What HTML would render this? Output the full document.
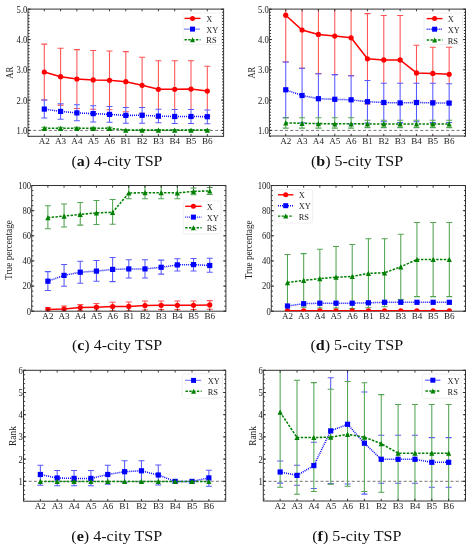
<!DOCTYPE html>
<html><head><meta charset="utf-8"><style>
html,body{margin:0;padding:0;background:#fff;width:469px;height:550px;overflow:hidden;}
body{position:relative;font-family:"Liberation Serif", serif;}
</style></head><body>
<svg width="469" height="550" viewBox="0 0 469 550" style="position:absolute;left:0;top:0;filter:blur(0.3px)">
<defs>
<clipPath id="ca"><rect x="28" y="9.1" width="195.6" height="127.2"/></clipPath>
<clipPath id="cb"><rect x="269.4" y="9.1" width="196.1" height="126.9"/></clipPath>
<clipPath id="cc"><rect x="31.7" y="185.5" width="194.2" height="125.7"/></clipPath>
<clipPath id="cd"><rect x="271.3" y="185.5" width="194.2" height="125.7"/></clipPath>
<clipPath id="ce"><rect x="23.5" y="370.3" width="202.2" height="130.9"/></clipPath>
<clipPath id="cf"><rect x="263.3" y="370.3" width="202.2" height="130.7"/></clipPath>
</defs>
<rect width="469" height="550" fill="#fff"/>
<line x1="28" y1="130.4" x2="223.6" y2="130.4" stroke="#666" stroke-width="0.9" stroke-dasharray="3,2.2"/>
<g stroke="#ff5252" stroke-width="1.05" clip-path="url(#ca)"><line x1="44.3" y1="44.1" x2="44.3" y2="99.9"/><line x1="41.3" y1="44.1" x2="47.3" y2="44.1"/><line x1="41.3" y1="99.9" x2="47.3" y2="99.9"/><line x1="60.6" y1="48.3" x2="60.6" y2="103.8"/><line x1="57.6" y1="48.3" x2="63.6" y2="48.3"/><line x1="57.6" y1="105.1" x2="63.6" y2="105.1"/><line x1="76.9" y1="49.6" x2="76.9" y2="104.8"/><line x1="73.9" y1="49.6" x2="79.9" y2="49.6"/><line x1="73.9" y1="108.4" x2="79.9" y2="108.4"/><line x1="93.2" y1="50.5" x2="93.2" y2="105.7"/><line x1="90.2" y1="50.5" x2="96.2" y2="50.5"/><line x1="90.2" y1="109.3" x2="96.2" y2="109.3"/><line x1="109.5" y1="50.9" x2="109.5" y2="106.5"/><line x1="106.5" y1="50.9" x2="112.5" y2="50.9"/><line x1="106.5" y1="109.7" x2="112.5" y2="109.7"/><line x1="125.8" y1="51.6" x2="125.8" y2="107.4"/><line x1="122.8" y1="51.6" x2="128.8" y2="51.6"/><line x1="122.8" y1="111.8" x2="128.8" y2="111.8"/><line x1="142.1" y1="57.3" x2="142.1" y2="107.5"/><line x1="139.1" y1="57.3" x2="145.1" y2="57.3"/><line x1="139.1" y1="113.3" x2="145.1" y2="113.3"/><line x1="158.4" y1="60.7" x2="158.4" y2="109.2"/><line x1="155.4" y1="60.7" x2="161.4" y2="60.7"/><line x1="155.4" y1="117.9" x2="161.4" y2="117.9"/><line x1="174.7" y1="60.7" x2="174.7" y2="109.5"/><line x1="171.7" y1="60.7" x2="177.7" y2="60.7"/><line x1="171.7" y1="117.9" x2="177.7" y2="117.9"/><line x1="191" y1="60.7" x2="191" y2="109.5"/><line x1="188" y1="60.7" x2="194" y2="60.7"/><line x1="188" y1="117.5" x2="194" y2="117.5"/><line x1="207.3" y1="66.3" x2="207.3" y2="110"/><line x1="204.3" y1="66.3" x2="210.3" y2="66.3"/><line x1="204.3" y1="115.9" x2="210.3" y2="115.9"/></g>
<g stroke="#5858ff" stroke-width="1.05" clip-path="url(#ca)"><line x1="44.3" y1="99.9" x2="44.3" y2="118"/><line x1="41.3" y1="99.9" x2="47.3" y2="99.9"/><line x1="41.3" y1="118" x2="47.3" y2="118"/><line x1="60.6" y1="103.8" x2="60.6" y2="119.3"/><line x1="57.6" y1="103.8" x2="63.6" y2="103.8"/><line x1="57.6" y1="119.3" x2="63.6" y2="119.3"/><line x1="76.9" y1="104.8" x2="76.9" y2="120.8"/><line x1="73.9" y1="104.8" x2="79.9" y2="104.8"/><line x1="73.9" y1="120.8" x2="79.9" y2="120.8"/><line x1="93.2" y1="105.7" x2="93.2" y2="121.9"/><line x1="90.2" y1="105.7" x2="96.2" y2="105.7"/><line x1="90.2" y1="121.9" x2="96.2" y2="121.9"/><line x1="109.5" y1="106.5" x2="109.5" y2="122.3"/><line x1="106.5" y1="106.5" x2="112.5" y2="106.5"/><line x1="106.5" y1="122.3" x2="112.5" y2="122.3"/><line x1="125.8" y1="107.4" x2="125.8" y2="123.2"/><line x1="122.8" y1="107.4" x2="128.8" y2="107.4"/><line x1="122.8" y1="123.2" x2="128.8" y2="123.2"/><line x1="142.1" y1="107.5" x2="142.1" y2="123.3"/><line x1="139.1" y1="107.5" x2="145.1" y2="107.5"/><line x1="139.1" y1="123.3" x2="145.1" y2="123.3"/><line x1="158.4" y1="109.2" x2="158.4" y2="122.7"/><line x1="155.4" y1="109.2" x2="161.4" y2="109.2"/><line x1="155.4" y1="122.7" x2="161.4" y2="122.7"/><line x1="174.7" y1="109.5" x2="174.7" y2="123.4"/><line x1="171.7" y1="109.5" x2="177.7" y2="109.5"/><line x1="171.7" y1="123.4" x2="177.7" y2="123.4"/><line x1="191" y1="109.5" x2="191" y2="123.4"/><line x1="188" y1="109.5" x2="194" y2="109.5"/><line x1="188" y1="123.4" x2="194" y2="123.4"/><line x1="207.3" y1="110" x2="207.3" y2="123.8"/><line x1="204.3" y1="110" x2="210.3" y2="110"/><line x1="204.3" y1="123.8" x2="210.3" y2="123.8"/></g>
<g stroke="#52a452" stroke-width="1.05" clip-path="url(#ca)"><line x1="44.3" y1="127.2" x2="44.3" y2="129.4"/><line x1="41.3" y1="127.2" x2="47.3" y2="127.2"/><line x1="41.3" y1="129.4" x2="47.3" y2="129.4"/><line x1="60.6" y1="127.2" x2="60.6" y2="129.4"/><line x1="57.6" y1="127.2" x2="63.6" y2="127.2"/><line x1="57.6" y1="129.4" x2="63.6" y2="129.4"/><line x1="76.9" y1="127.2" x2="76.9" y2="129.4"/><line x1="73.9" y1="127.2" x2="79.9" y2="127.2"/><line x1="73.9" y1="129.4" x2="79.9" y2="129.4"/><line x1="93.2" y1="127.2" x2="93.2" y2="129.4"/><line x1="90.2" y1="127.2" x2="96.2" y2="127.2"/><line x1="90.2" y1="129.4" x2="96.2" y2="129.4"/><line x1="109.5" y1="127.2" x2="109.5" y2="129.4"/><line x1="106.5" y1="127.2" x2="112.5" y2="127.2"/><line x1="106.5" y1="129.4" x2="112.5" y2="129.4"/><line x1="125.8" y1="129.4" x2="125.8" y2="130.8"/><line x1="122.8" y1="129.4" x2="128.8" y2="129.4"/><line x1="122.8" y1="130.8" x2="128.8" y2="130.8"/><line x1="142.1" y1="129.4" x2="142.1" y2="130.8"/><line x1="139.1" y1="129.4" x2="145.1" y2="129.4"/><line x1="139.1" y1="130.8" x2="145.1" y2="130.8"/><line x1="158.4" y1="129.4" x2="158.4" y2="130.8"/><line x1="155.4" y1="129.4" x2="161.4" y2="129.4"/><line x1="155.4" y1="130.8" x2="161.4" y2="130.8"/><line x1="174.7" y1="129.4" x2="174.7" y2="130.8"/><line x1="171.7" y1="129.4" x2="177.7" y2="129.4"/><line x1="171.7" y1="130.8" x2="177.7" y2="130.8"/><line x1="191" y1="129.4" x2="191" y2="130.8"/><line x1="188" y1="129.4" x2="194" y2="129.4"/><line x1="188" y1="130.8" x2="194" y2="130.8"/><line x1="207.3" y1="129.4" x2="207.3" y2="130.8"/><line x1="204.3" y1="129.4" x2="210.3" y2="129.4"/><line x1="204.3" y1="130.8" x2="210.3" y2="130.8"/></g>
<polyline points="44.3,72 60.6,76.7 76.9,79 93.2,79.9 109.5,80.3 125.8,81.7 142.1,85.3 158.4,89.3 174.7,89.3 191,89.1 207.3,91.1" fill="none" stroke="#ff0000" stroke-width="1.55" stroke-dasharray="none" clip-path="url(#ca)"/>
<g clip-path="url(#ca)"><circle cx="44.3" cy="72" r="2.6" fill="#ff0000"/><circle cx="60.6" cy="76.7" r="2.6" fill="#ff0000"/><circle cx="76.9" cy="79" r="2.6" fill="#ff0000"/><circle cx="93.2" cy="79.9" r="2.6" fill="#ff0000"/><circle cx="109.5" cy="80.3" r="2.6" fill="#ff0000"/><circle cx="125.8" cy="81.7" r="2.6" fill="#ff0000"/><circle cx="142.1" cy="85.3" r="2.6" fill="#ff0000"/><circle cx="158.4" cy="89.3" r="2.6" fill="#ff0000"/><circle cx="174.7" cy="89.3" r="2.6" fill="#ff0000"/><circle cx="191" cy="89.1" r="2.6" fill="#ff0000"/><circle cx="207.3" cy="91.1" r="2.6" fill="#ff0000"/></g>
<polyline points="44.3,109.1 60.6,111.4 76.9,112.9 93.2,113.6 109.5,114.4 125.8,115.4 142.1,115.3 158.4,116.1 174.7,116.5 191,116.5 207.3,116.7" fill="none" stroke="#0000ff" stroke-width="1.55" stroke-dasharray="0.95,1.05" clip-path="url(#ca)"/>
<g clip-path="url(#ca)"><rect x="41.7" y="106.5" width="5.2" height="5.2" fill="#0000ff"/><rect x="58" y="108.8" width="5.2" height="5.2" fill="#0000ff"/><rect x="74.3" y="110.3" width="5.2" height="5.2" fill="#0000ff"/><rect x="90.6" y="111" width="5.2" height="5.2" fill="#0000ff"/><rect x="106.9" y="111.8" width="5.2" height="5.2" fill="#0000ff"/><rect x="123.2" y="112.8" width="5.2" height="5.2" fill="#0000ff"/><rect x="139.5" y="112.7" width="5.2" height="5.2" fill="#0000ff"/><rect x="155.8" y="113.5" width="5.2" height="5.2" fill="#0000ff"/><rect x="172.1" y="113.9" width="5.2" height="5.2" fill="#0000ff"/><rect x="188.4" y="113.9" width="5.2" height="5.2" fill="#0000ff"/><rect x="204.7" y="114.1" width="5.2" height="5.2" fill="#0000ff"/></g>
<polyline points="44.3,128.3 60.6,128.3 76.9,128.3 93.2,128.3 109.5,128.3 125.8,130.1 142.1,130.1 158.4,130.1 174.7,130.1 191,130.1 207.3,130.1" fill="none" stroke="#008000" stroke-width="1.55" stroke-dasharray="2.4,1.4" clip-path="url(#ca)"/>
<g clip-path="url(#ca)"><polygon points="44.3,125.7 41.7,130.9 46.9,130.9" fill="#008000"/><polygon points="60.6,125.7 58,130.9 63.2,130.9" fill="#008000"/><polygon points="76.9,125.7 74.3,130.9 79.5,130.9" fill="#008000"/><polygon points="93.2,125.7 90.6,130.9 95.8,130.9" fill="#008000"/><polygon points="109.5,125.7 106.9,130.9 112.1,130.9" fill="#008000"/><polygon points="125.8,127.5 123.2,132.7 128.4,132.7" fill="#008000"/><polygon points="142.1,127.5 139.5,132.7 144.7,132.7" fill="#008000"/><polygon points="158.4,127.5 155.8,132.7 161,132.7" fill="#008000"/><polygon points="174.7,127.5 172.1,132.7 177.3,132.7" fill="#008000"/><polygon points="191,127.5 188.4,132.7 193.6,132.7" fill="#008000"/><polygon points="207.3,127.5 204.7,132.7 209.9,132.7" fill="#008000"/></g>
<g stroke="#222" stroke-width="0.9"><line x1="28" y1="136.46" x2="29.6" y2="136.46"/><line x1="222" y1="136.46" x2="223.6" y2="136.46"/><line x1="28" y1="133.43" x2="29.6" y2="133.43"/><line x1="222" y1="133.43" x2="223.6" y2="133.43"/><line x1="28" y1="130.4" x2="29.6" y2="130.4"/><line x1="222" y1="130.4" x2="223.6" y2="130.4"/><line x1="28" y1="127.37" x2="29.6" y2="127.37"/><line x1="222" y1="127.37" x2="223.6" y2="127.37"/><line x1="28" y1="124.34" x2="29.6" y2="124.34"/><line x1="222" y1="124.34" x2="223.6" y2="124.34"/><line x1="28" y1="121.32" x2="29.6" y2="121.32"/><line x1="222" y1="121.32" x2="223.6" y2="121.32"/><line x1="28" y1="118.29" x2="29.6" y2="118.29"/><line x1="222" y1="118.29" x2="223.6" y2="118.29"/><line x1="28" y1="115.26" x2="29.6" y2="115.26"/><line x1="222" y1="115.26" x2="223.6" y2="115.26"/><line x1="28" y1="112.23" x2="29.6" y2="112.23"/><line x1="222" y1="112.23" x2="223.6" y2="112.23"/><line x1="28" y1="109.2" x2="29.6" y2="109.2"/><line x1="222" y1="109.2" x2="223.6" y2="109.2"/><line x1="28" y1="106.18" x2="29.6" y2="106.18"/><line x1="222" y1="106.18" x2="223.6" y2="106.18"/><line x1="28" y1="103.15" x2="29.6" y2="103.15"/><line x1="222" y1="103.15" x2="223.6" y2="103.15"/><line x1="28" y1="100.12" x2="29.6" y2="100.12"/><line x1="222" y1="100.12" x2="223.6" y2="100.12"/><line x1="28" y1="97.09" x2="29.6" y2="97.09"/><line x1="222" y1="97.09" x2="223.6" y2="97.09"/><line x1="28" y1="94.06" x2="29.6" y2="94.06"/><line x1="222" y1="94.06" x2="223.6" y2="94.06"/><line x1="28" y1="91.04" x2="29.6" y2="91.04"/><line x1="222" y1="91.04" x2="223.6" y2="91.04"/><line x1="28" y1="88.01" x2="29.6" y2="88.01"/><line x1="222" y1="88.01" x2="223.6" y2="88.01"/><line x1="28" y1="84.98" x2="29.6" y2="84.98"/><line x1="222" y1="84.98" x2="223.6" y2="84.98"/><line x1="28" y1="81.95" x2="29.6" y2="81.95"/><line x1="222" y1="81.95" x2="223.6" y2="81.95"/><line x1="28" y1="78.92" x2="29.6" y2="78.92"/><line x1="222" y1="78.92" x2="223.6" y2="78.92"/><line x1="28" y1="75.9" x2="29.6" y2="75.9"/><line x1="222" y1="75.9" x2="223.6" y2="75.9"/><line x1="28" y1="72.87" x2="29.6" y2="72.87"/><line x1="222" y1="72.87" x2="223.6" y2="72.87"/><line x1="28" y1="69.84" x2="29.6" y2="69.84"/><line x1="222" y1="69.84" x2="223.6" y2="69.84"/><line x1="28" y1="66.81" x2="29.6" y2="66.81"/><line x1="222" y1="66.81" x2="223.6" y2="66.81"/><line x1="28" y1="63.78" x2="29.6" y2="63.78"/><line x1="222" y1="63.78" x2="223.6" y2="63.78"/><line x1="28" y1="60.76" x2="29.6" y2="60.76"/><line x1="222" y1="60.76" x2="223.6" y2="60.76"/><line x1="28" y1="57.73" x2="29.6" y2="57.73"/><line x1="222" y1="57.73" x2="223.6" y2="57.73"/><line x1="28" y1="54.7" x2="29.6" y2="54.7"/><line x1="222" y1="54.7" x2="223.6" y2="54.7"/><line x1="28" y1="51.67" x2="29.6" y2="51.67"/><line x1="222" y1="51.67" x2="223.6" y2="51.67"/><line x1="28" y1="48.64" x2="29.6" y2="48.64"/><line x1="222" y1="48.64" x2="223.6" y2="48.64"/><line x1="28" y1="45.62" x2="29.6" y2="45.62"/><line x1="222" y1="45.62" x2="223.6" y2="45.62"/><line x1="28" y1="42.59" x2="29.6" y2="42.59"/><line x1="222" y1="42.59" x2="223.6" y2="42.59"/><line x1="28" y1="39.56" x2="29.6" y2="39.56"/><line x1="222" y1="39.56" x2="223.6" y2="39.56"/><line x1="28" y1="36.53" x2="29.6" y2="36.53"/><line x1="222" y1="36.53" x2="223.6" y2="36.53"/><line x1="28" y1="33.5" x2="29.6" y2="33.5"/><line x1="222" y1="33.5" x2="223.6" y2="33.5"/><line x1="28" y1="30.48" x2="29.6" y2="30.48"/><line x1="222" y1="30.48" x2="223.6" y2="30.48"/><line x1="28" y1="27.45" x2="29.6" y2="27.45"/><line x1="222" y1="27.45" x2="223.6" y2="27.45"/><line x1="28" y1="24.42" x2="29.6" y2="24.42"/><line x1="222" y1="24.42" x2="223.6" y2="24.42"/><line x1="28" y1="21.39" x2="29.6" y2="21.39"/><line x1="222" y1="21.39" x2="223.6" y2="21.39"/><line x1="28" y1="18.36" x2="29.6" y2="18.36"/><line x1="222" y1="18.36" x2="223.6" y2="18.36"/><line x1="28" y1="15.34" x2="29.6" y2="15.34"/><line x1="222" y1="15.34" x2="223.6" y2="15.34"/><line x1="28" y1="12.31" x2="29.6" y2="12.31"/><line x1="222" y1="12.31" x2="223.6" y2="12.31"/><line x1="28" y1="9.28" x2="29.6" y2="9.28"/><line x1="222" y1="9.28" x2="223.6" y2="9.28"/><line x1="28" y1="130.4" x2="30.6" y2="130.4"/><line x1="221" y1="130.4" x2="223.6" y2="130.4"/><line x1="28" y1="100.12" x2="30.6" y2="100.12"/><line x1="221" y1="100.12" x2="223.6" y2="100.12"/><line x1="28" y1="69.84" x2="30.6" y2="69.84"/><line x1="221" y1="69.84" x2="223.6" y2="69.84"/><line x1="28" y1="39.56" x2="30.6" y2="39.56"/><line x1="221" y1="39.56" x2="223.6" y2="39.56"/><line x1="28" y1="9.28" x2="30.6" y2="9.28"/><line x1="221" y1="9.28" x2="223.6" y2="9.28"/><line x1="44.3" y1="9.1" x2="44.3" y2="11.3"/><line x1="44.3" y1="134.1" x2="44.3" y2="136.3"/><line x1="60.6" y1="9.1" x2="60.6" y2="11.3"/><line x1="60.6" y1="134.1" x2="60.6" y2="136.3"/><line x1="76.9" y1="9.1" x2="76.9" y2="11.3"/><line x1="76.9" y1="134.1" x2="76.9" y2="136.3"/><line x1="93.2" y1="9.1" x2="93.2" y2="11.3"/><line x1="93.2" y1="134.1" x2="93.2" y2="136.3"/><line x1="109.5" y1="9.1" x2="109.5" y2="11.3"/><line x1="109.5" y1="134.1" x2="109.5" y2="136.3"/><line x1="125.8" y1="9.1" x2="125.8" y2="11.3"/><line x1="125.8" y1="134.1" x2="125.8" y2="136.3"/><line x1="142.1" y1="9.1" x2="142.1" y2="11.3"/><line x1="142.1" y1="134.1" x2="142.1" y2="136.3"/><line x1="158.4" y1="9.1" x2="158.4" y2="11.3"/><line x1="158.4" y1="134.1" x2="158.4" y2="136.3"/><line x1="174.7" y1="9.1" x2="174.7" y2="11.3"/><line x1="174.7" y1="134.1" x2="174.7" y2="136.3"/><line x1="191" y1="9.1" x2="191" y2="11.3"/><line x1="191" y1="134.1" x2="191" y2="136.3"/><line x1="207.3" y1="9.1" x2="207.3" y2="11.3"/><line x1="207.3" y1="134.1" x2="207.3" y2="136.3"/></g>
<rect x="28" y="9.1" width="195.6" height="127.2" fill="none" stroke="#333" stroke-width="1"/>
<g font-family='"Liberation Serif", serif' fill="#222"><text x="16.6" y="133.8" font-size="9.6" textLength="10.8" lengthAdjust="spacingAndGlyphs">1.0</text><text x="16.6" y="103.52" font-size="9.6" textLength="10.8" lengthAdjust="spacingAndGlyphs">2.0</text><text x="16.6" y="73.24" font-size="9.6" textLength="10.8" lengthAdjust="spacingAndGlyphs">3.0</text><text x="16.6" y="42.96" font-size="9.6" textLength="10.8" lengthAdjust="spacingAndGlyphs">4.0</text><text x="16.6" y="12.68" font-size="9.6" textLength="10.8" lengthAdjust="spacingAndGlyphs">5.0</text><text x="44.3" y="144.2" text-anchor="middle" font-size="9.1">A2</text><text x="60.6" y="144.2" text-anchor="middle" font-size="9.1">A3</text><text x="76.9" y="144.2" text-anchor="middle" font-size="9.1">A4</text><text x="93.2" y="144.2" text-anchor="middle" font-size="9.1">A5</text><text x="109.5" y="144.2" text-anchor="middle" font-size="9.1">A6</text><text x="125.8" y="144.2" text-anchor="middle" font-size="9.1">B1</text><text x="142.1" y="144.2" text-anchor="middle" font-size="9.1">B2</text><text x="158.4" y="144.2" text-anchor="middle" font-size="9.1">B3</text><text x="174.7" y="144.2" text-anchor="middle" font-size="9.1">B4</text><text x="191" y="144.2" text-anchor="middle" font-size="9.1">B5</text><text x="207.3" y="144.2" text-anchor="middle" font-size="9.1">B6</text><text transform="translate(12.8,72.75) rotate(-90)" x="-6.05" y="0" font-size="9.4" textLength="12.1" lengthAdjust="spacingAndGlyphs">AR</text></g>
<rect x="183" y="13" width="38.5" height="31.6" rx="1.5" fill="rgba(255,255,255,0.85)" stroke="#ececec" stroke-width="0.8"/>
<line x1="184.5" y1="18.4" x2="200.5" y2="18.4" stroke="#ff0000" stroke-width="1.4" stroke-dasharray="none"/>
<circle cx="192.5" cy="18.4" r="2.5" fill="#ff0000"/>
<text x="206.3" y="22" font-family='"Liberation Serif", serif' font-size="8.4" fill="#222">X</text>
<line x1="184.5" y1="29.1" x2="200.5" y2="29.1" stroke="#0000ff" stroke-width="1.4" stroke-dasharray="0.95,1.05"/>
<rect x="190" y="26.6" width="5" height="5" fill="#0000ff"/>
<text x="206.3" y="32.7" font-family='"Liberation Serif", serif' font-size="8.4" fill="#222">XY</text>
<line x1="184.5" y1="39.8" x2="200.5" y2="39.8" stroke="#008000" stroke-width="1.4" stroke-dasharray="2.4,1.4"/>
<polygon points="192.5,37.3 190,42.3 195,42.3" fill="#008000"/>
<text x="206.3" y="43.4" font-family='"Liberation Serif", serif' font-size="8.4" fill="#222">RS</text>
<text x="71.4" y="165.7" font-family='"Liberation Serif", serif' font-size="14.8" fill="#111" textLength="91" lengthAdjust="spacingAndGlyphs">(<tspan font-weight="bold">a</tspan>) 4-city TSP</text>
<line x1="269.4" y1="130.4" x2="465.5" y2="130.4" stroke="#666" stroke-width="0.9" stroke-dasharray="3,2.2"/>
<g stroke="#ff5252" stroke-width="1.05" clip-path="url(#cb)"><line x1="285.74" y1="-20" x2="285.74" y2="62"/><line x1="282.74" y1="-20" x2="288.74" y2="-20"/><line x1="282.74" y1="62" x2="288.74" y2="62"/><line x1="302.08" y1="-20" x2="302.08" y2="68.2"/><line x1="299.08" y1="-20" x2="305.08" y2="-20"/><line x1="299.08" y1="68.2" x2="305.08" y2="68.2"/><line x1="318.42" y1="-20" x2="318.42" y2="73.8"/><line x1="315.42" y1="-20" x2="321.42" y2="-20"/><line x1="315.42" y1="73.8" x2="321.42" y2="73.8"/><line x1="334.77" y1="-20" x2="334.77" y2="74.6"/><line x1="331.77" y1="-20" x2="337.77" y2="-20"/><line x1="331.77" y1="74.6" x2="337.77" y2="74.6"/><line x1="351.11" y1="-20" x2="351.11" y2="75.7"/><line x1="348.11" y1="-20" x2="354.11" y2="-20"/><line x1="348.11" y1="75.7" x2="354.11" y2="75.7"/><line x1="367.45" y1="13.6" x2="367.45" y2="80.5"/><line x1="364.45" y1="13.6" x2="370.45" y2="13.6"/><line x1="364.45" y1="104" x2="370.45" y2="104"/><line x1="383.79" y1="15.4" x2="383.79" y2="83.2"/><line x1="380.79" y1="15.4" x2="386.79" y2="15.4"/><line x1="380.79" y1="104.4" x2="386.79" y2="104.4"/><line x1="400.13" y1="15.4" x2="400.13" y2="83.2"/><line x1="397.13" y1="15.4" x2="403.13" y2="15.4"/><line x1="397.13" y1="104.4" x2="403.13" y2="104.4"/><line x1="416.48" y1="45.2" x2="416.48" y2="83.2"/><line x1="413.48" y1="45.2" x2="419.48" y2="45.2"/><line x1="413.48" y1="100.8" x2="419.48" y2="100.8"/><line x1="432.82" y1="47.3" x2="432.82" y2="83.2"/><line x1="429.82" y1="47.3" x2="435.82" y2="47.3"/><line x1="429.82" y1="100.8" x2="435.82" y2="100.8"/><line x1="449.16" y1="47.3" x2="449.16" y2="83.7"/><line x1="446.16" y1="47.3" x2="452.16" y2="47.3"/><line x1="446.16" y1="101.4" x2="452.16" y2="101.4"/></g>
<g stroke="#5858ff" stroke-width="1.05" clip-path="url(#cb)"><line x1="285.74" y1="62" x2="285.74" y2="117.6"/><line x1="282.74" y1="62" x2="288.74" y2="62"/><line x1="282.74" y1="117.6" x2="288.74" y2="117.6"/><line x1="302.08" y1="68.2" x2="302.08" y2="117.7"/><line x1="299.08" y1="68.2" x2="305.08" y2="68.2"/><line x1="299.08" y1="122.8" x2="305.08" y2="122.8"/><line x1="318.42" y1="73.8" x2="318.42" y2="117.7"/><line x1="315.42" y1="73.8" x2="321.42" y2="73.8"/><line x1="315.42" y1="123.6" x2="321.42" y2="123.6"/><line x1="334.77" y1="74.6" x2="334.77" y2="117.7"/><line x1="331.77" y1="74.6" x2="337.77" y2="74.6"/><line x1="331.77" y1="124" x2="337.77" y2="124"/><line x1="351.11" y1="75.7" x2="351.11" y2="117.7"/><line x1="348.11" y1="75.7" x2="354.11" y2="75.7"/><line x1="348.11" y1="123.9" x2="354.11" y2="123.9"/><line x1="367.45" y1="80.5" x2="367.45" y2="120.3"/><line x1="364.45" y1="80.5" x2="370.45" y2="80.5"/><line x1="364.45" y1="122.9" x2="370.45" y2="122.9"/><line x1="383.79" y1="83.2" x2="383.79" y2="120.3"/><line x1="380.79" y1="83.2" x2="386.79" y2="83.2"/><line x1="380.79" y1="121.8" x2="386.79" y2="121.8"/><line x1="400.13" y1="83.2" x2="400.13" y2="120.3"/><line x1="397.13" y1="83.2" x2="403.13" y2="83.2"/><line x1="397.13" y1="122.6" x2="403.13" y2="122.6"/><line x1="416.48" y1="83.2" x2="416.48" y2="120.3"/><line x1="413.48" y1="83.2" x2="419.48" y2="83.2"/><line x1="413.48" y1="121.8" x2="419.48" y2="121.8"/><line x1="432.82" y1="83.2" x2="432.82" y2="120.3"/><line x1="429.82" y1="83.2" x2="435.82" y2="83.2"/><line x1="429.82" y1="122.6" x2="435.82" y2="122.6"/><line x1="449.16" y1="83.7" x2="449.16" y2="120.3"/><line x1="446.16" y1="83.7" x2="452.16" y2="83.7"/><line x1="446.16" y1="122.5" x2="452.16" y2="122.5"/></g>
<g stroke="#52a452" stroke-width="1.05" clip-path="url(#cb)"><line x1="285.74" y1="117.7" x2="285.74" y2="128.1"/><line x1="282.74" y1="117.7" x2="288.74" y2="117.7"/><line x1="282.74" y1="128.1" x2="288.74" y2="128.1"/><line x1="302.08" y1="117.7" x2="302.08" y2="128.1"/><line x1="299.08" y1="117.7" x2="305.08" y2="117.7"/><line x1="299.08" y1="128.1" x2="305.08" y2="128.1"/><line x1="318.42" y1="117.7" x2="318.42" y2="128.1"/><line x1="315.42" y1="117.7" x2="321.42" y2="117.7"/><line x1="315.42" y1="128.1" x2="321.42" y2="128.1"/><line x1="334.77" y1="117.7" x2="334.77" y2="128.1"/><line x1="331.77" y1="117.7" x2="337.77" y2="117.7"/><line x1="331.77" y1="128.1" x2="337.77" y2="128.1"/><line x1="351.11" y1="117.7" x2="351.11" y2="128.1"/><line x1="348.11" y1="117.7" x2="354.11" y2="117.7"/><line x1="348.11" y1="128.1" x2="354.11" y2="128.1"/><line x1="367.45" y1="120.3" x2="367.45" y2="127.6"/><line x1="364.45" y1="120.3" x2="370.45" y2="120.3"/><line x1="364.45" y1="127.6" x2="370.45" y2="127.6"/><line x1="383.79" y1="120.3" x2="383.79" y2="127.6"/><line x1="380.79" y1="120.3" x2="386.79" y2="120.3"/><line x1="380.79" y1="127.6" x2="386.79" y2="127.6"/><line x1="400.13" y1="120.3" x2="400.13" y2="127.6"/><line x1="397.13" y1="120.3" x2="403.13" y2="120.3"/><line x1="397.13" y1="127.6" x2="403.13" y2="127.6"/><line x1="416.48" y1="120.3" x2="416.48" y2="127.6"/><line x1="413.48" y1="120.3" x2="419.48" y2="120.3"/><line x1="413.48" y1="127.6" x2="419.48" y2="127.6"/><line x1="432.82" y1="120.3" x2="432.82" y2="127.6"/><line x1="429.82" y1="120.3" x2="435.82" y2="120.3"/><line x1="429.82" y1="127.6" x2="435.82" y2="127.6"/><line x1="449.16" y1="120.3" x2="449.16" y2="127.6"/><line x1="446.16" y1="120.3" x2="452.16" y2="120.3"/><line x1="446.16" y1="127.6" x2="452.16" y2="127.6"/></g>
<polyline points="285.74,15.2 302.08,30 318.42,34.4 334.77,36.1 351.11,37.8 367.45,58.8 383.79,59.9 400.13,59.9 416.48,72.9 432.82,73.4 449.16,74.3" fill="none" stroke="#ff0000" stroke-width="1.55" stroke-dasharray="none" clip-path="url(#cb)"/>
<g clip-path="url(#cb)"><circle cx="285.74" cy="15.2" r="2.6" fill="#ff0000"/><circle cx="302.08" cy="30" r="2.6" fill="#ff0000"/><circle cx="318.42" cy="34.4" r="2.6" fill="#ff0000"/><circle cx="334.77" cy="36.1" r="2.6" fill="#ff0000"/><circle cx="351.11" cy="37.8" r="2.6" fill="#ff0000"/><circle cx="367.45" cy="58.8" r="2.6" fill="#ff0000"/><circle cx="383.79" cy="59.9" r="2.6" fill="#ff0000"/><circle cx="400.13" cy="59.9" r="2.6" fill="#ff0000"/><circle cx="416.48" cy="72.9" r="2.6" fill="#ff0000"/><circle cx="432.82" cy="73.4" r="2.6" fill="#ff0000"/><circle cx="449.16" cy="74.3" r="2.6" fill="#ff0000"/></g>
<polyline points="285.74,89.8 302.08,95.5 318.42,98.7 334.77,99.3 351.11,99.8 367.45,101.7 383.79,102.5 400.13,102.9 416.48,102.5 432.82,102.9 449.16,103.1" fill="none" stroke="#0000ff" stroke-width="1.55" stroke-dasharray="0.95,1.05" clip-path="url(#cb)"/>
<g clip-path="url(#cb)"><rect x="283.14" y="87.2" width="5.2" height="5.2" fill="#0000ff"/><rect x="299.48" y="92.9" width="5.2" height="5.2" fill="#0000ff"/><rect x="315.82" y="96.1" width="5.2" height="5.2" fill="#0000ff"/><rect x="332.17" y="96.7" width="5.2" height="5.2" fill="#0000ff"/><rect x="348.51" y="97.2" width="5.2" height="5.2" fill="#0000ff"/><rect x="364.85" y="99.1" width="5.2" height="5.2" fill="#0000ff"/><rect x="381.19" y="99.9" width="5.2" height="5.2" fill="#0000ff"/><rect x="397.53" y="100.3" width="5.2" height="5.2" fill="#0000ff"/><rect x="413.88" y="99.9" width="5.2" height="5.2" fill="#0000ff"/><rect x="430.22" y="100.3" width="5.2" height="5.2" fill="#0000ff"/><rect x="446.56" y="100.5" width="5.2" height="5.2" fill="#0000ff"/></g>
<polyline points="285.74,122.9 302.08,123.3 318.42,123.6 334.77,123.8 351.11,123.8 367.45,123.9 383.79,123.9 400.13,123.9 416.48,123.9 432.82,123.9 449.16,123.9" fill="none" stroke="#008000" stroke-width="1.55" stroke-dasharray="2.4,1.4" clip-path="url(#cb)"/>
<g clip-path="url(#cb)"><polygon points="285.74,120.3 283.14,125.5 288.34,125.5" fill="#008000"/><polygon points="302.08,120.7 299.48,125.9 304.68,125.9" fill="#008000"/><polygon points="318.42,121 315.82,126.2 321.02,126.2" fill="#008000"/><polygon points="334.77,121.2 332.17,126.4 337.37,126.4" fill="#008000"/><polygon points="351.11,121.2 348.51,126.4 353.71,126.4" fill="#008000"/><polygon points="367.45,121.3 364.85,126.5 370.05,126.5" fill="#008000"/><polygon points="383.79,121.3 381.19,126.5 386.39,126.5" fill="#008000"/><polygon points="400.13,121.3 397.53,126.5 402.73,126.5" fill="#008000"/><polygon points="416.48,121.3 413.88,126.5 419.08,126.5" fill="#008000"/><polygon points="432.82,121.3 430.22,126.5 435.42,126.5" fill="#008000"/><polygon points="449.16,121.3 446.56,126.5 451.76,126.5" fill="#008000"/></g>
<g stroke="#222" stroke-width="0.9"><line x1="269.4" y1="136.46" x2="271" y2="136.46"/><line x1="463.9" y1="136.46" x2="465.5" y2="136.46"/><line x1="269.4" y1="133.43" x2="271" y2="133.43"/><line x1="463.9" y1="133.43" x2="465.5" y2="133.43"/><line x1="269.4" y1="130.4" x2="271" y2="130.4"/><line x1="463.9" y1="130.4" x2="465.5" y2="130.4"/><line x1="269.4" y1="127.37" x2="271" y2="127.37"/><line x1="463.9" y1="127.37" x2="465.5" y2="127.37"/><line x1="269.4" y1="124.34" x2="271" y2="124.34"/><line x1="463.9" y1="124.34" x2="465.5" y2="124.34"/><line x1="269.4" y1="121.32" x2="271" y2="121.32"/><line x1="463.9" y1="121.32" x2="465.5" y2="121.32"/><line x1="269.4" y1="118.29" x2="271" y2="118.29"/><line x1="463.9" y1="118.29" x2="465.5" y2="118.29"/><line x1="269.4" y1="115.26" x2="271" y2="115.26"/><line x1="463.9" y1="115.26" x2="465.5" y2="115.26"/><line x1="269.4" y1="112.23" x2="271" y2="112.23"/><line x1="463.9" y1="112.23" x2="465.5" y2="112.23"/><line x1="269.4" y1="109.2" x2="271" y2="109.2"/><line x1="463.9" y1="109.2" x2="465.5" y2="109.2"/><line x1="269.4" y1="106.18" x2="271" y2="106.18"/><line x1="463.9" y1="106.18" x2="465.5" y2="106.18"/><line x1="269.4" y1="103.15" x2="271" y2="103.15"/><line x1="463.9" y1="103.15" x2="465.5" y2="103.15"/><line x1="269.4" y1="100.12" x2="271" y2="100.12"/><line x1="463.9" y1="100.12" x2="465.5" y2="100.12"/><line x1="269.4" y1="97.09" x2="271" y2="97.09"/><line x1="463.9" y1="97.09" x2="465.5" y2="97.09"/><line x1="269.4" y1="94.06" x2="271" y2="94.06"/><line x1="463.9" y1="94.06" x2="465.5" y2="94.06"/><line x1="269.4" y1="91.04" x2="271" y2="91.04"/><line x1="463.9" y1="91.04" x2="465.5" y2="91.04"/><line x1="269.4" y1="88.01" x2="271" y2="88.01"/><line x1="463.9" y1="88.01" x2="465.5" y2="88.01"/><line x1="269.4" y1="84.98" x2="271" y2="84.98"/><line x1="463.9" y1="84.98" x2="465.5" y2="84.98"/><line x1="269.4" y1="81.95" x2="271" y2="81.95"/><line x1="463.9" y1="81.95" x2="465.5" y2="81.95"/><line x1="269.4" y1="78.92" x2="271" y2="78.92"/><line x1="463.9" y1="78.92" x2="465.5" y2="78.92"/><line x1="269.4" y1="75.9" x2="271" y2="75.9"/><line x1="463.9" y1="75.9" x2="465.5" y2="75.9"/><line x1="269.4" y1="72.87" x2="271" y2="72.87"/><line x1="463.9" y1="72.87" x2="465.5" y2="72.87"/><line x1="269.4" y1="69.84" x2="271" y2="69.84"/><line x1="463.9" y1="69.84" x2="465.5" y2="69.84"/><line x1="269.4" y1="66.81" x2="271" y2="66.81"/><line x1="463.9" y1="66.81" x2="465.5" y2="66.81"/><line x1="269.4" y1="63.78" x2="271" y2="63.78"/><line x1="463.9" y1="63.78" x2="465.5" y2="63.78"/><line x1="269.4" y1="60.76" x2="271" y2="60.76"/><line x1="463.9" y1="60.76" x2="465.5" y2="60.76"/><line x1="269.4" y1="57.73" x2="271" y2="57.73"/><line x1="463.9" y1="57.73" x2="465.5" y2="57.73"/><line x1="269.4" y1="54.7" x2="271" y2="54.7"/><line x1="463.9" y1="54.7" x2="465.5" y2="54.7"/><line x1="269.4" y1="51.67" x2="271" y2="51.67"/><line x1="463.9" y1="51.67" x2="465.5" y2="51.67"/><line x1="269.4" y1="48.64" x2="271" y2="48.64"/><line x1="463.9" y1="48.64" x2="465.5" y2="48.64"/><line x1="269.4" y1="45.62" x2="271" y2="45.62"/><line x1="463.9" y1="45.62" x2="465.5" y2="45.62"/><line x1="269.4" y1="42.59" x2="271" y2="42.59"/><line x1="463.9" y1="42.59" x2="465.5" y2="42.59"/><line x1="269.4" y1="39.56" x2="271" y2="39.56"/><line x1="463.9" y1="39.56" x2="465.5" y2="39.56"/><line x1="269.4" y1="36.53" x2="271" y2="36.53"/><line x1="463.9" y1="36.53" x2="465.5" y2="36.53"/><line x1="269.4" y1="33.5" x2="271" y2="33.5"/><line x1="463.9" y1="33.5" x2="465.5" y2="33.5"/><line x1="269.4" y1="30.48" x2="271" y2="30.48"/><line x1="463.9" y1="30.48" x2="465.5" y2="30.48"/><line x1="269.4" y1="27.45" x2="271" y2="27.45"/><line x1="463.9" y1="27.45" x2="465.5" y2="27.45"/><line x1="269.4" y1="24.42" x2="271" y2="24.42"/><line x1="463.9" y1="24.42" x2="465.5" y2="24.42"/><line x1="269.4" y1="21.39" x2="271" y2="21.39"/><line x1="463.9" y1="21.39" x2="465.5" y2="21.39"/><line x1="269.4" y1="18.36" x2="271" y2="18.36"/><line x1="463.9" y1="18.36" x2="465.5" y2="18.36"/><line x1="269.4" y1="15.34" x2="271" y2="15.34"/><line x1="463.9" y1="15.34" x2="465.5" y2="15.34"/><line x1="269.4" y1="12.31" x2="271" y2="12.31"/><line x1="463.9" y1="12.31" x2="465.5" y2="12.31"/><line x1="269.4" y1="9.28" x2="271" y2="9.28"/><line x1="463.9" y1="9.28" x2="465.5" y2="9.28"/><line x1="269.4" y1="130.4" x2="272" y2="130.4"/><line x1="462.9" y1="130.4" x2="465.5" y2="130.4"/><line x1="269.4" y1="100.12" x2="272" y2="100.12"/><line x1="462.9" y1="100.12" x2="465.5" y2="100.12"/><line x1="269.4" y1="69.84" x2="272" y2="69.84"/><line x1="462.9" y1="69.84" x2="465.5" y2="69.84"/><line x1="269.4" y1="39.56" x2="272" y2="39.56"/><line x1="462.9" y1="39.56" x2="465.5" y2="39.56"/><line x1="269.4" y1="9.28" x2="272" y2="9.28"/><line x1="462.9" y1="9.28" x2="465.5" y2="9.28"/><line x1="285.74" y1="9.1" x2="285.74" y2="11.3"/><line x1="285.74" y1="133.8" x2="285.74" y2="136"/><line x1="302.08" y1="9.1" x2="302.08" y2="11.3"/><line x1="302.08" y1="133.8" x2="302.08" y2="136"/><line x1="318.42" y1="9.1" x2="318.42" y2="11.3"/><line x1="318.42" y1="133.8" x2="318.42" y2="136"/><line x1="334.77" y1="9.1" x2="334.77" y2="11.3"/><line x1="334.77" y1="133.8" x2="334.77" y2="136"/><line x1="351.11" y1="9.1" x2="351.11" y2="11.3"/><line x1="351.11" y1="133.8" x2="351.11" y2="136"/><line x1="367.45" y1="9.1" x2="367.45" y2="11.3"/><line x1="367.45" y1="133.8" x2="367.45" y2="136"/><line x1="383.79" y1="9.1" x2="383.79" y2="11.3"/><line x1="383.79" y1="133.8" x2="383.79" y2="136"/><line x1="400.13" y1="9.1" x2="400.13" y2="11.3"/><line x1="400.13" y1="133.8" x2="400.13" y2="136"/><line x1="416.48" y1="9.1" x2="416.48" y2="11.3"/><line x1="416.48" y1="133.8" x2="416.48" y2="136"/><line x1="432.82" y1="9.1" x2="432.82" y2="11.3"/><line x1="432.82" y1="133.8" x2="432.82" y2="136"/><line x1="449.16" y1="9.1" x2="449.16" y2="11.3"/><line x1="449.16" y1="133.8" x2="449.16" y2="136"/></g>
<rect x="269.4" y="9.1" width="196.1" height="126.9" fill="none" stroke="#333" stroke-width="1"/>
<g font-family='"Liberation Serif", serif' fill="#222"><text x="258" y="133.8" font-size="9.6" textLength="10.8" lengthAdjust="spacingAndGlyphs">1.0</text><text x="258" y="103.52" font-size="9.6" textLength="10.8" lengthAdjust="spacingAndGlyphs">2.0</text><text x="258" y="73.24" font-size="9.6" textLength="10.8" lengthAdjust="spacingAndGlyphs">3.0</text><text x="258" y="42.96" font-size="9.6" textLength="10.8" lengthAdjust="spacingAndGlyphs">4.0</text><text x="258" y="12.68" font-size="9.6" textLength="10.8" lengthAdjust="spacingAndGlyphs">5.0</text><text x="285.74" y="144.2" text-anchor="middle" font-size="9.1">A2</text><text x="302.08" y="144.2" text-anchor="middle" font-size="9.1">A3</text><text x="318.42" y="144.2" text-anchor="middle" font-size="9.1">A4</text><text x="334.77" y="144.2" text-anchor="middle" font-size="9.1">A5</text><text x="351.11" y="144.2" text-anchor="middle" font-size="9.1">A6</text><text x="367.45" y="144.2" text-anchor="middle" font-size="9.1">B1</text><text x="383.79" y="144.2" text-anchor="middle" font-size="9.1">B2</text><text x="400.13" y="144.2" text-anchor="middle" font-size="9.1">B3</text><text x="416.48" y="144.2" text-anchor="middle" font-size="9.1">B4</text><text x="432.82" y="144.2" text-anchor="middle" font-size="9.1">B5</text><text x="449.16" y="144.2" text-anchor="middle" font-size="9.1">B6</text><text transform="translate(254.5,72.7) rotate(-90)" x="-5.9" y="0" font-size="9.4" textLength="11.8" lengthAdjust="spacingAndGlyphs">AR</text></g>
<rect x="424" y="13" width="38.5" height="31.6" rx="1.5" fill="rgba(255,255,255,0.85)" stroke="#ececec" stroke-width="0.8"/>
<line x1="426.7" y1="18.6" x2="442.5" y2="18.6" stroke="#ff0000" stroke-width="1.4" stroke-dasharray="none"/>
<circle cx="434.6" cy="18.6" r="2.5" fill="#ff0000"/>
<text x="447.7" y="22.2" font-family='"Liberation Serif", serif' font-size="8.4" fill="#222">X</text>
<line x1="426.7" y1="29.2" x2="442.5" y2="29.2" stroke="#0000ff" stroke-width="1.4" stroke-dasharray="0.95,1.05"/>
<rect x="432.1" y="26.7" width="5" height="5" fill="#0000ff"/>
<text x="447.7" y="32.8" font-family='"Liberation Serif", serif' font-size="8.4" fill="#222">XY</text>
<line x1="426.7" y1="40" x2="442.5" y2="40" stroke="#008000" stroke-width="1.4" stroke-dasharray="2.4,1.4"/>
<polygon points="434.6,37.5 432.1,42.5 437.1,42.5" fill="#008000"/>
<text x="447.7" y="43.6" font-family='"Liberation Serif", serif' font-size="8.4" fill="#222">RS</text>
<text x="311" y="165.7" font-family='"Liberation Serif", serif' font-size="14.8" fill="#111" textLength="92.1" lengthAdjust="spacingAndGlyphs">(<tspan font-weight="bold">b</tspan>) 5-city TSP</text>
<g stroke="#ff5252" stroke-width="1.05" clip-path="url(#cc)"><line x1="47.88" y1="307.5" x2="47.88" y2="311.5"/><line x1="44.88" y1="307.5" x2="50.88" y2="307.5"/><line x1="44.88" y1="311.5" x2="50.88" y2="311.5"/><line x1="64.07" y1="306" x2="64.07" y2="311.8"/><line x1="61.07" y1="306" x2="67.07" y2="306"/><line x1="61.07" y1="311.8" x2="67.07" y2="311.8"/><line x1="80.25" y1="304.6" x2="80.25" y2="310.6"/><line x1="77.25" y1="304.6" x2="83.25" y2="304.6"/><line x1="77.25" y1="310.6" x2="83.25" y2="310.6"/><line x1="96.43" y1="303.5" x2="96.43" y2="310.9"/><line x1="93.43" y1="303.5" x2="99.43" y2="303.5"/><line x1="93.43" y1="310.9" x2="99.43" y2="310.9"/><line x1="112.62" y1="302.3" x2="112.62" y2="310.7"/><line x1="109.62" y1="302.3" x2="115.62" y2="302.3"/><line x1="109.62" y1="310.7" x2="115.62" y2="310.7"/><line x1="128.8" y1="302" x2="128.8" y2="310.8"/><line x1="125.8" y1="302" x2="131.8" y2="302"/><line x1="125.8" y1="310.8" x2="131.8" y2="310.8"/><line x1="144.98" y1="301" x2="144.98" y2="310"/><line x1="141.98" y1="301" x2="147.98" y2="301"/><line x1="141.98" y1="310" x2="147.98" y2="310"/><line x1="161.17" y1="301" x2="161.17" y2="309.6"/><line x1="158.17" y1="301" x2="164.17" y2="301"/><line x1="158.17" y1="309.6" x2="164.17" y2="309.6"/><line x1="177.35" y1="301" x2="177.35" y2="309.6"/><line x1="174.35" y1="301" x2="180.35" y2="301"/><line x1="174.35" y1="309.6" x2="180.35" y2="309.6"/><line x1="193.53" y1="301" x2="193.53" y2="309.6"/><line x1="190.53" y1="301" x2="196.53" y2="301"/><line x1="190.53" y1="309.6" x2="196.53" y2="309.6"/><line x1="209.72" y1="300.6" x2="209.72" y2="309.2"/><line x1="206.72" y1="300.6" x2="212.72" y2="300.6"/><line x1="206.72" y1="309.2" x2="212.72" y2="309.2"/></g>
<g stroke="#5858ff" stroke-width="1.05" clip-path="url(#cc)"><line x1="47.88" y1="271.6" x2="47.88" y2="290.5"/><line x1="44.88" y1="271.6" x2="50.88" y2="271.6"/><line x1="44.88" y1="290.5" x2="50.88" y2="290.5"/><line x1="64.07" y1="264.5" x2="64.07" y2="286.3"/><line x1="61.07" y1="264.5" x2="67.07" y2="264.5"/><line x1="61.07" y1="286.3" x2="67.07" y2="286.3"/><line x1="80.25" y1="261.3" x2="80.25" y2="283.3"/><line x1="77.25" y1="261.3" x2="83.25" y2="261.3"/><line x1="77.25" y1="283.3" x2="83.25" y2="283.3"/><line x1="96.43" y1="260.5" x2="96.43" y2="281.2"/><line x1="93.43" y1="260.5" x2="99.43" y2="260.5"/><line x1="93.43" y1="281.2" x2="99.43" y2="281.2"/><line x1="112.62" y1="257.5" x2="112.62" y2="281.6"/><line x1="109.62" y1="257.5" x2="115.62" y2="257.5"/><line x1="109.62" y1="281.6" x2="115.62" y2="281.6"/><line x1="128.8" y1="259.7" x2="128.8" y2="278"/><line x1="125.8" y1="259.7" x2="131.8" y2="259.7"/><line x1="125.8" y1="278" x2="131.8" y2="278"/><line x1="144.98" y1="259.7" x2="144.98" y2="278"/><line x1="141.98" y1="259.7" x2="147.98" y2="259.7"/><line x1="141.98" y1="278" x2="147.98" y2="278"/><line x1="161.17" y1="260.1" x2="161.17" y2="274.1"/><line x1="158.17" y1="260.1" x2="164.17" y2="260.1"/><line x1="158.17" y1="274.1" x2="164.17" y2="274.1"/><line x1="177.35" y1="258.8" x2="177.35" y2="271"/><line x1="174.35" y1="258.8" x2="180.35" y2="258.8"/><line x1="174.35" y1="271" x2="180.35" y2="271"/><line x1="193.53" y1="258.5" x2="193.53" y2="271"/><line x1="190.53" y1="258.5" x2="196.53" y2="258.5"/><line x1="190.53" y1="271" x2="196.53" y2="271"/><line x1="209.72" y1="258.3" x2="209.72" y2="272.3"/><line x1="206.72" y1="258.3" x2="212.72" y2="258.3"/><line x1="206.72" y1="272.3" x2="212.72" y2="272.3"/></g>
<g stroke="#52a452" stroke-width="1.05" clip-path="url(#cc)"><line x1="47.88" y1="205.7" x2="47.88" y2="228.7"/><line x1="44.88" y1="205.7" x2="50.88" y2="205.7"/><line x1="44.88" y1="228.7" x2="50.88" y2="228.7"/><line x1="64.07" y1="204" x2="64.07" y2="227"/><line x1="61.07" y1="204" x2="67.07" y2="204"/><line x1="61.07" y1="227" x2="67.07" y2="227"/><line x1="80.25" y1="202.5" x2="80.25" y2="225.1"/><line x1="77.25" y1="202.5" x2="83.25" y2="202.5"/><line x1="77.25" y1="225.1" x2="83.25" y2="225.1"/><line x1="96.43" y1="200.4" x2="96.43" y2="224.4"/><line x1="93.43" y1="200.4" x2="99.43" y2="200.4"/><line x1="93.43" y1="224.4" x2="99.43" y2="224.4"/><line x1="112.62" y1="199.5" x2="112.62" y2="224.2"/><line x1="109.62" y1="199.5" x2="115.62" y2="199.5"/><line x1="109.62" y1="224.2" x2="115.62" y2="224.2"/><line x1="128.8" y1="184.5" x2="128.8" y2="198.8"/><line x1="125.8" y1="184.5" x2="131.8" y2="184.5"/><line x1="125.8" y1="198.8" x2="131.8" y2="198.8"/><line x1="144.98" y1="184.5" x2="144.98" y2="198.8"/><line x1="141.98" y1="184.5" x2="147.98" y2="184.5"/><line x1="141.98" y1="198.8" x2="147.98" y2="198.8"/><line x1="161.17" y1="184.5" x2="161.17" y2="198.8"/><line x1="158.17" y1="184.5" x2="164.17" y2="184.5"/><line x1="158.17" y1="198.8" x2="164.17" y2="198.8"/><line x1="177.35" y1="184.5" x2="177.35" y2="198.8"/><line x1="174.35" y1="184.5" x2="180.35" y2="184.5"/><line x1="174.35" y1="198.8" x2="180.35" y2="198.8"/><line x1="193.53" y1="188" x2="193.53" y2="194.8"/><line x1="190.53" y1="188" x2="196.53" y2="188"/><line x1="190.53" y1="194.8" x2="196.53" y2="194.8"/><line x1="209.72" y1="187.5" x2="209.72" y2="194.5"/><line x1="206.72" y1="187.5" x2="212.72" y2="187.5"/><line x1="206.72" y1="194.5" x2="212.72" y2="194.5"/></g>
<polyline points="47.88,309.5 64.07,308.9 80.25,307.6 96.43,307.2 112.62,306.5 128.8,306.4 144.98,305.5 161.17,305.3 177.35,305.3 193.53,305.3 209.72,304.9" fill="none" stroke="#ff0000" stroke-width="1.55" stroke-dasharray="none" clip-path="url(#cc)"/>
<g clip-path="url(#cc)"><circle cx="47.88" cy="309.5" r="2.6" fill="#ff0000"/><circle cx="64.07" cy="308.9" r="2.6" fill="#ff0000"/><circle cx="80.25" cy="307.6" r="2.6" fill="#ff0000"/><circle cx="96.43" cy="307.2" r="2.6" fill="#ff0000"/><circle cx="112.62" cy="306.5" r="2.6" fill="#ff0000"/><circle cx="128.8" cy="306.4" r="2.6" fill="#ff0000"/><circle cx="144.98" cy="305.5" r="2.6" fill="#ff0000"/><circle cx="161.17" cy="305.3" r="2.6" fill="#ff0000"/><circle cx="177.35" cy="305.3" r="2.6" fill="#ff0000"/><circle cx="193.53" cy="305.3" r="2.6" fill="#ff0000"/><circle cx="209.72" cy="304.9" r="2.6" fill="#ff0000"/></g>
<polyline points="47.88,281.2 64.07,275.4 80.25,272.2 96.43,271.1 112.62,269.4 128.8,268.9 144.98,268.9 161.17,267.3 177.35,264.9 193.53,264.6 209.72,265.5" fill="none" stroke="#0000ff" stroke-width="1.55" stroke-dasharray="0.95,1.05" clip-path="url(#cc)"/>
<g clip-path="url(#cc)"><rect x="45.28" y="278.6" width="5.2" height="5.2" fill="#0000ff"/><rect x="61.47" y="272.8" width="5.2" height="5.2" fill="#0000ff"/><rect x="77.65" y="269.6" width="5.2" height="5.2" fill="#0000ff"/><rect x="93.83" y="268.5" width="5.2" height="5.2" fill="#0000ff"/><rect x="110.02" y="266.8" width="5.2" height="5.2" fill="#0000ff"/><rect x="126.2" y="266.3" width="5.2" height="5.2" fill="#0000ff"/><rect x="142.38" y="266.3" width="5.2" height="5.2" fill="#0000ff"/><rect x="158.57" y="264.7" width="5.2" height="5.2" fill="#0000ff"/><rect x="174.75" y="262.3" width="5.2" height="5.2" fill="#0000ff"/><rect x="190.93" y="262" width="5.2" height="5.2" fill="#0000ff"/><rect x="207.12" y="262.9" width="5.2" height="5.2" fill="#0000ff"/></g>
<polyline points="47.88,217.6 64.07,216.1 80.25,214.4 96.43,212.9 112.62,212.3 128.8,193 144.98,192.7 161.17,192.7 177.35,192.9 193.53,191.4 209.72,190.9" fill="none" stroke="#008000" stroke-width="1.55" stroke-dasharray="2.4,1.4" clip-path="url(#cc)"/>
<g clip-path="url(#cc)"><polygon points="47.88,215 45.28,220.2 50.48,220.2" fill="#008000"/><polygon points="64.07,213.5 61.47,218.7 66.67,218.7" fill="#008000"/><polygon points="80.25,211.8 77.65,217 82.85,217" fill="#008000"/><polygon points="96.43,210.3 93.83,215.5 99.03,215.5" fill="#008000"/><polygon points="112.62,209.7 110.02,214.9 115.22,214.9" fill="#008000"/><polygon points="128.8,190.4 126.2,195.6 131.4,195.6" fill="#008000"/><polygon points="144.98,190.1 142.38,195.3 147.58,195.3" fill="#008000"/><polygon points="161.17,190.1 158.57,195.3 163.77,195.3" fill="#008000"/><polygon points="177.35,190.3 174.75,195.5 179.95,195.5" fill="#008000"/><polygon points="193.53,188.8 190.93,194 196.13,194" fill="#008000"/><polygon points="209.72,188.3 207.12,193.5 212.32,193.5" fill="#008000"/></g>
<g stroke="#222" stroke-width="0.9"><line x1="31.7" y1="311.2" x2="33.3" y2="311.2"/><line x1="224.3" y1="311.2" x2="225.9" y2="311.2"/><line x1="31.7" y1="306.17" x2="33.3" y2="306.17"/><line x1="224.3" y1="306.17" x2="225.9" y2="306.17"/><line x1="31.7" y1="301.15" x2="33.3" y2="301.15"/><line x1="224.3" y1="301.15" x2="225.9" y2="301.15"/><line x1="31.7" y1="296.12" x2="33.3" y2="296.12"/><line x1="224.3" y1="296.12" x2="225.9" y2="296.12"/><line x1="31.7" y1="291.1" x2="33.3" y2="291.1"/><line x1="224.3" y1="291.1" x2="225.9" y2="291.1"/><line x1="31.7" y1="286.07" x2="33.3" y2="286.07"/><line x1="224.3" y1="286.07" x2="225.9" y2="286.07"/><line x1="31.7" y1="281.04" x2="33.3" y2="281.04"/><line x1="224.3" y1="281.04" x2="225.9" y2="281.04"/><line x1="31.7" y1="276.02" x2="33.3" y2="276.02"/><line x1="224.3" y1="276.02" x2="225.9" y2="276.02"/><line x1="31.7" y1="270.99" x2="33.3" y2="270.99"/><line x1="224.3" y1="270.99" x2="225.9" y2="270.99"/><line x1="31.7" y1="265.97" x2="33.3" y2="265.97"/><line x1="224.3" y1="265.97" x2="225.9" y2="265.97"/><line x1="31.7" y1="260.94" x2="33.3" y2="260.94"/><line x1="224.3" y1="260.94" x2="225.9" y2="260.94"/><line x1="31.7" y1="255.91" x2="33.3" y2="255.91"/><line x1="224.3" y1="255.91" x2="225.9" y2="255.91"/><line x1="31.7" y1="250.89" x2="33.3" y2="250.89"/><line x1="224.3" y1="250.89" x2="225.9" y2="250.89"/><line x1="31.7" y1="245.86" x2="33.3" y2="245.86"/><line x1="224.3" y1="245.86" x2="225.9" y2="245.86"/><line x1="31.7" y1="240.84" x2="33.3" y2="240.84"/><line x1="224.3" y1="240.84" x2="225.9" y2="240.84"/><line x1="31.7" y1="235.81" x2="33.3" y2="235.81"/><line x1="224.3" y1="235.81" x2="225.9" y2="235.81"/><line x1="31.7" y1="230.78" x2="33.3" y2="230.78"/><line x1="224.3" y1="230.78" x2="225.9" y2="230.78"/><line x1="31.7" y1="225.76" x2="33.3" y2="225.76"/><line x1="224.3" y1="225.76" x2="225.9" y2="225.76"/><line x1="31.7" y1="220.73" x2="33.3" y2="220.73"/><line x1="224.3" y1="220.73" x2="225.9" y2="220.73"/><line x1="31.7" y1="215.71" x2="33.3" y2="215.71"/><line x1="224.3" y1="215.71" x2="225.9" y2="215.71"/><line x1="31.7" y1="210.68" x2="33.3" y2="210.68"/><line x1="224.3" y1="210.68" x2="225.9" y2="210.68"/><line x1="31.7" y1="205.65" x2="33.3" y2="205.65"/><line x1="224.3" y1="205.65" x2="225.9" y2="205.65"/><line x1="31.7" y1="200.63" x2="33.3" y2="200.63"/><line x1="224.3" y1="200.63" x2="225.9" y2="200.63"/><line x1="31.7" y1="195.6" x2="33.3" y2="195.6"/><line x1="224.3" y1="195.6" x2="225.9" y2="195.6"/><line x1="31.7" y1="190.58" x2="33.3" y2="190.58"/><line x1="224.3" y1="190.58" x2="225.9" y2="190.58"/><line x1="31.7" y1="185.55" x2="33.3" y2="185.55"/><line x1="224.3" y1="185.55" x2="225.9" y2="185.55"/><line x1="31.7" y1="311.2" x2="34.3" y2="311.2"/><line x1="223.3" y1="311.2" x2="225.9" y2="311.2"/><line x1="31.7" y1="286.07" x2="34.3" y2="286.07"/><line x1="223.3" y1="286.07" x2="225.9" y2="286.07"/><line x1="31.7" y1="260.94" x2="34.3" y2="260.94"/><line x1="223.3" y1="260.94" x2="225.9" y2="260.94"/><line x1="31.7" y1="235.81" x2="34.3" y2="235.81"/><line x1="223.3" y1="235.81" x2="225.9" y2="235.81"/><line x1="31.7" y1="210.68" x2="34.3" y2="210.68"/><line x1="223.3" y1="210.68" x2="225.9" y2="210.68"/><line x1="31.7" y1="185.55" x2="34.3" y2="185.55"/><line x1="223.3" y1="185.55" x2="225.9" y2="185.55"/><line x1="47.88" y1="185.5" x2="47.88" y2="187.7"/><line x1="47.88" y1="309" x2="47.88" y2="311.2"/><line x1="64.07" y1="185.5" x2="64.07" y2="187.7"/><line x1="64.07" y1="309" x2="64.07" y2="311.2"/><line x1="80.25" y1="185.5" x2="80.25" y2="187.7"/><line x1="80.25" y1="309" x2="80.25" y2="311.2"/><line x1="96.43" y1="185.5" x2="96.43" y2="187.7"/><line x1="96.43" y1="309" x2="96.43" y2="311.2"/><line x1="112.62" y1="185.5" x2="112.62" y2="187.7"/><line x1="112.62" y1="309" x2="112.62" y2="311.2"/><line x1="128.8" y1="185.5" x2="128.8" y2="187.7"/><line x1="128.8" y1="309" x2="128.8" y2="311.2"/><line x1="144.98" y1="185.5" x2="144.98" y2="187.7"/><line x1="144.98" y1="309" x2="144.98" y2="311.2"/><line x1="161.17" y1="185.5" x2="161.17" y2="187.7"/><line x1="161.17" y1="309" x2="161.17" y2="311.2"/><line x1="177.35" y1="185.5" x2="177.35" y2="187.7"/><line x1="177.35" y1="309" x2="177.35" y2="311.2"/><line x1="193.53" y1="185.5" x2="193.53" y2="187.7"/><line x1="193.53" y1="309" x2="193.53" y2="311.2"/><line x1="209.72" y1="185.5" x2="209.72" y2="187.7"/><line x1="209.72" y1="309" x2="209.72" y2="311.2"/></g>
<rect x="31.7" y="185.5" width="194.2" height="125.7" fill="none" stroke="#333" stroke-width="1"/>
<g font-family='"Liberation Serif", serif' fill="#222"><text x="26.78" y="314.6" font-size="9.6" textLength="4.32" lengthAdjust="spacingAndGlyphs">0</text><text x="22.46" y="289.47" font-size="9.6" textLength="8.64" lengthAdjust="spacingAndGlyphs">20</text><text x="22.46" y="264.34" font-size="9.6" textLength="8.64" lengthAdjust="spacingAndGlyphs">40</text><text x="22.46" y="239.21" font-size="9.6" textLength="8.64" lengthAdjust="spacingAndGlyphs">60</text><text x="22.46" y="214.08" font-size="9.6" textLength="8.64" lengthAdjust="spacingAndGlyphs">80</text><text x="18.14" y="188.95" font-size="9.6" textLength="12.96" lengthAdjust="spacingAndGlyphs">100</text><text x="47.88" y="319.1" text-anchor="middle" font-size="9.1">A2</text><text x="64.07" y="319.1" text-anchor="middle" font-size="9.1">A3</text><text x="80.25" y="319.1" text-anchor="middle" font-size="9.1">A4</text><text x="96.43" y="319.1" text-anchor="middle" font-size="9.1">A5</text><text x="112.62" y="319.1" text-anchor="middle" font-size="9.1">A6</text><text x="128.8" y="319.1" text-anchor="middle" font-size="9.1">B1</text><text x="144.98" y="319.1" text-anchor="middle" font-size="9.1">B2</text><text x="161.17" y="319.1" text-anchor="middle" font-size="9.1">B3</text><text x="177.35" y="319.1" text-anchor="middle" font-size="9.1">B4</text><text x="193.53" y="319.1" text-anchor="middle" font-size="9.1">B5</text><text x="209.72" y="319.1" text-anchor="middle" font-size="9.1">B6</text><text transform="translate(12.3,250) rotate(-90)" x="-29.9" y="0" font-size="9.4" textLength="59.8" lengthAdjust="spacingAndGlyphs">True percentage</text></g>
<rect x="183.3" y="201" width="37.5" height="32.9" rx="1.5" fill="rgba(255,255,255,0.85)" stroke="#ececec" stroke-width="0.8"/>
<line x1="185.2" y1="206.3" x2="201.6" y2="206.3" stroke="#ff0000" stroke-width="1.4" stroke-dasharray="none"/>
<circle cx="193.4" cy="206.3" r="2.5" fill="#ff0000"/>
<text x="206.7" y="209.9" font-family='"Liberation Serif", serif' font-size="8.4" fill="#222">X</text>
<line x1="185.2" y1="217.1" x2="201.6" y2="217.1" stroke="#0000ff" stroke-width="1.4" stroke-dasharray="0.95,1.05"/>
<rect x="190.9" y="214.6" width="5" height="5" fill="#0000ff"/>
<text x="206.7" y="220.7" font-family='"Liberation Serif", serif' font-size="8.4" fill="#222">XY</text>
<line x1="185.2" y1="227.7" x2="201.6" y2="227.7" stroke="#008000" stroke-width="1.4" stroke-dasharray="2.4,1.4"/>
<polygon points="193.4,225.2 190.9,230.2 195.9,230.2" fill="#008000"/>
<text x="206.7" y="231.3" font-family='"Liberation Serif", serif' font-size="8.4" fill="#222">RS</text>
<text x="71.9" y="350.4" font-family='"Liberation Serif", serif' font-size="14.8" fill="#111" textLength="90.3" lengthAdjust="spacingAndGlyphs">(<tspan font-weight="bold">c</tspan>) 4-city TSP</text>
<g stroke="#52a452" stroke-width="1.05" clip-path="url(#cd)"><line x1="287.48" y1="254.5" x2="287.48" y2="310.7"/><line x1="284.48" y1="254.5" x2="290.48" y2="254.5"/><line x1="284.48" y1="310.7" x2="290.48" y2="310.7"/><line x1="303.67" y1="253.6" x2="303.67" y2="307.2"/><line x1="300.67" y1="253.6" x2="306.67" y2="253.6"/><line x1="300.67" y1="307.2" x2="306.67" y2="307.2"/><line x1="319.85" y1="249.3" x2="319.85" y2="307.9"/><line x1="316.85" y1="249.3" x2="322.85" y2="249.3"/><line x1="316.85" y1="307.9" x2="322.85" y2="307.9"/><line x1="336.03" y1="246.4" x2="336.03" y2="308"/><line x1="333.03" y1="246.4" x2="339.03" y2="246.4"/><line x1="333.03" y1="308" x2="339.03" y2="308"/><line x1="352.22" y1="244.5" x2="352.22" y2="308.5"/><line x1="349.22" y1="244.5" x2="355.22" y2="244.5"/><line x1="349.22" y1="308.5" x2="355.22" y2="308.5"/><line x1="368.4" y1="238.8" x2="368.4" y2="307.8"/><line x1="365.4" y1="238.8" x2="371.4" y2="238.8"/><line x1="365.4" y1="307.8" x2="371.4" y2="307.8"/><line x1="384.58" y1="238.8" x2="384.58" y2="306.8"/><line x1="381.58" y1="238.8" x2="387.58" y2="238.8"/><line x1="381.58" y1="306.8" x2="387.58" y2="306.8"/><line x1="400.77" y1="234.2" x2="400.77" y2="299.4"/><line x1="397.77" y1="234.2" x2="403.77" y2="234.2"/><line x1="397.77" y1="299.4" x2="403.77" y2="299.4"/><line x1="416.95" y1="222.4" x2="416.95" y2="296.6"/><line x1="413.95" y1="222.4" x2="419.95" y2="222.4"/><line x1="413.95" y1="296.6" x2="419.95" y2="296.6"/><line x1="433.13" y1="222.4" x2="433.13" y2="296.6"/><line x1="430.13" y1="222.4" x2="436.13" y2="222.4"/><line x1="430.13" y1="296.6" x2="436.13" y2="296.6"/><line x1="449.32" y1="222.4" x2="449.32" y2="296.6"/><line x1="446.32" y1="222.4" x2="452.32" y2="222.4"/><line x1="446.32" y1="296.6" x2="452.32" y2="296.6"/></g>
<g stroke="#222" stroke-width="0.9"><line x1="271.3" y1="311.2" x2="272.9" y2="311.2"/><line x1="463.9" y1="311.2" x2="465.5" y2="311.2"/><line x1="271.3" y1="306.17" x2="272.9" y2="306.17"/><line x1="463.9" y1="306.17" x2="465.5" y2="306.17"/><line x1="271.3" y1="301.15" x2="272.9" y2="301.15"/><line x1="463.9" y1="301.15" x2="465.5" y2="301.15"/><line x1="271.3" y1="296.12" x2="272.9" y2="296.12"/><line x1="463.9" y1="296.12" x2="465.5" y2="296.12"/><line x1="271.3" y1="291.1" x2="272.9" y2="291.1"/><line x1="463.9" y1="291.1" x2="465.5" y2="291.1"/><line x1="271.3" y1="286.07" x2="272.9" y2="286.07"/><line x1="463.9" y1="286.07" x2="465.5" y2="286.07"/><line x1="271.3" y1="281.04" x2="272.9" y2="281.04"/><line x1="463.9" y1="281.04" x2="465.5" y2="281.04"/><line x1="271.3" y1="276.02" x2="272.9" y2="276.02"/><line x1="463.9" y1="276.02" x2="465.5" y2="276.02"/><line x1="271.3" y1="270.99" x2="272.9" y2="270.99"/><line x1="463.9" y1="270.99" x2="465.5" y2="270.99"/><line x1="271.3" y1="265.97" x2="272.9" y2="265.97"/><line x1="463.9" y1="265.97" x2="465.5" y2="265.97"/><line x1="271.3" y1="260.94" x2="272.9" y2="260.94"/><line x1="463.9" y1="260.94" x2="465.5" y2="260.94"/><line x1="271.3" y1="255.91" x2="272.9" y2="255.91"/><line x1="463.9" y1="255.91" x2="465.5" y2="255.91"/><line x1="271.3" y1="250.89" x2="272.9" y2="250.89"/><line x1="463.9" y1="250.89" x2="465.5" y2="250.89"/><line x1="271.3" y1="245.86" x2="272.9" y2="245.86"/><line x1="463.9" y1="245.86" x2="465.5" y2="245.86"/><line x1="271.3" y1="240.84" x2="272.9" y2="240.84"/><line x1="463.9" y1="240.84" x2="465.5" y2="240.84"/><line x1="271.3" y1="235.81" x2="272.9" y2="235.81"/><line x1="463.9" y1="235.81" x2="465.5" y2="235.81"/><line x1="271.3" y1="230.78" x2="272.9" y2="230.78"/><line x1="463.9" y1="230.78" x2="465.5" y2="230.78"/><line x1="271.3" y1="225.76" x2="272.9" y2="225.76"/><line x1="463.9" y1="225.76" x2="465.5" y2="225.76"/><line x1="271.3" y1="220.73" x2="272.9" y2="220.73"/><line x1="463.9" y1="220.73" x2="465.5" y2="220.73"/><line x1="271.3" y1="215.71" x2="272.9" y2="215.71"/><line x1="463.9" y1="215.71" x2="465.5" y2="215.71"/><line x1="271.3" y1="210.68" x2="272.9" y2="210.68"/><line x1="463.9" y1="210.68" x2="465.5" y2="210.68"/><line x1="271.3" y1="205.65" x2="272.9" y2="205.65"/><line x1="463.9" y1="205.65" x2="465.5" y2="205.65"/><line x1="271.3" y1="200.63" x2="272.9" y2="200.63"/><line x1="463.9" y1="200.63" x2="465.5" y2="200.63"/><line x1="271.3" y1="195.6" x2="272.9" y2="195.6"/><line x1="463.9" y1="195.6" x2="465.5" y2="195.6"/><line x1="271.3" y1="190.58" x2="272.9" y2="190.58"/><line x1="463.9" y1="190.58" x2="465.5" y2="190.58"/><line x1="271.3" y1="185.55" x2="272.9" y2="185.55"/><line x1="463.9" y1="185.55" x2="465.5" y2="185.55"/><line x1="271.3" y1="311.2" x2="273.9" y2="311.2"/><line x1="462.9" y1="311.2" x2="465.5" y2="311.2"/><line x1="271.3" y1="286.07" x2="273.9" y2="286.07"/><line x1="462.9" y1="286.07" x2="465.5" y2="286.07"/><line x1="271.3" y1="260.94" x2="273.9" y2="260.94"/><line x1="462.9" y1="260.94" x2="465.5" y2="260.94"/><line x1="271.3" y1="235.81" x2="273.9" y2="235.81"/><line x1="462.9" y1="235.81" x2="465.5" y2="235.81"/><line x1="271.3" y1="210.68" x2="273.9" y2="210.68"/><line x1="462.9" y1="210.68" x2="465.5" y2="210.68"/><line x1="271.3" y1="185.55" x2="273.9" y2="185.55"/><line x1="462.9" y1="185.55" x2="465.5" y2="185.55"/><line x1="287.48" y1="185.5" x2="287.48" y2="187.7"/><line x1="287.48" y1="309" x2="287.48" y2="311.2"/><line x1="303.67" y1="185.5" x2="303.67" y2="187.7"/><line x1="303.67" y1="309" x2="303.67" y2="311.2"/><line x1="319.85" y1="185.5" x2="319.85" y2="187.7"/><line x1="319.85" y1="309" x2="319.85" y2="311.2"/><line x1="336.03" y1="185.5" x2="336.03" y2="187.7"/><line x1="336.03" y1="309" x2="336.03" y2="311.2"/><line x1="352.22" y1="185.5" x2="352.22" y2="187.7"/><line x1="352.22" y1="309" x2="352.22" y2="311.2"/><line x1="368.4" y1="185.5" x2="368.4" y2="187.7"/><line x1="368.4" y1="309" x2="368.4" y2="311.2"/><line x1="384.58" y1="185.5" x2="384.58" y2="187.7"/><line x1="384.58" y1="309" x2="384.58" y2="311.2"/><line x1="400.77" y1="185.5" x2="400.77" y2="187.7"/><line x1="400.77" y1="309" x2="400.77" y2="311.2"/><line x1="416.95" y1="185.5" x2="416.95" y2="187.7"/><line x1="416.95" y1="309" x2="416.95" y2="311.2"/><line x1="433.13" y1="185.5" x2="433.13" y2="187.7"/><line x1="433.13" y1="309" x2="433.13" y2="311.2"/><line x1="449.32" y1="185.5" x2="449.32" y2="187.7"/><line x1="449.32" y1="309" x2="449.32" y2="311.2"/></g>
<rect x="271.3" y="185.5" width="194.2" height="125.7" fill="none" stroke="#333" stroke-width="1"/>
<polyline points="287.48,310.8 303.67,310.8 319.85,310.8 336.03,310.8 352.22,310.8 368.4,310.8 384.58,310.8 400.77,310.8 416.95,310.8 433.13,310.8 449.32,310.8" fill="none" stroke="#ff0000" stroke-width="1.55" stroke-dasharray="none" clip-path="url(#cd)"/>
<g clip-path="url(#cd)"><circle cx="287.48" cy="310.8" r="2.6" fill="#ff0000"/><circle cx="303.67" cy="310.8" r="2.6" fill="#ff0000"/><circle cx="319.85" cy="310.8" r="2.6" fill="#ff0000"/><circle cx="336.03" cy="310.8" r="2.6" fill="#ff0000"/><circle cx="352.22" cy="310.8" r="2.6" fill="#ff0000"/><circle cx="368.4" cy="310.8" r="2.6" fill="#ff0000"/><circle cx="384.58" cy="310.8" r="2.6" fill="#ff0000"/><circle cx="400.77" cy="310.8" r="2.6" fill="#ff0000"/><circle cx="416.95" cy="310.8" r="2.6" fill="#ff0000"/><circle cx="433.13" cy="310.8" r="2.6" fill="#ff0000"/><circle cx="449.32" cy="310.8" r="2.6" fill="#ff0000"/></g>
<polyline points="287.48,306 303.67,303.7 319.85,303.2 336.03,303.2 352.22,303.2 368.4,302.8 384.58,302.3 400.77,302.3 416.95,302.3 433.13,302.3 449.32,302.3" fill="none" stroke="#0000ff" stroke-width="1.55" stroke-dasharray="0.95,1.05" clip-path="url(#cd)"/>
<g clip-path="url(#cd)"><rect x="284.88" y="303.4" width="5.2" height="5.2" fill="#0000ff"/><rect x="301.07" y="301.1" width="5.2" height="5.2" fill="#0000ff"/><rect x="317.25" y="300.6" width="5.2" height="5.2" fill="#0000ff"/><rect x="333.43" y="300.6" width="5.2" height="5.2" fill="#0000ff"/><rect x="349.62" y="300.6" width="5.2" height="5.2" fill="#0000ff"/><rect x="365.8" y="300.2" width="5.2" height="5.2" fill="#0000ff"/><rect x="381.98" y="299.7" width="5.2" height="5.2" fill="#0000ff"/><rect x="398.17" y="299.7" width="5.2" height="5.2" fill="#0000ff"/><rect x="414.35" y="299.7" width="5.2" height="5.2" fill="#0000ff"/><rect x="430.53" y="299.7" width="5.2" height="5.2" fill="#0000ff"/><rect x="446.72" y="299.7" width="5.2" height="5.2" fill="#0000ff"/></g>
<polyline points="287.48,282.6 303.67,280.4 319.85,278.6 336.03,277.2 352.22,276.5 368.4,273.3 384.58,272.8 400.77,266.8 416.95,259.5 433.13,259.5 449.32,259.5" fill="none" stroke="#008000" stroke-width="1.55" stroke-dasharray="2.4,1.4" clip-path="url(#cd)"/>
<g clip-path="url(#cd)"><polygon points="287.48,280 284.88,285.2 290.08,285.2" fill="#008000"/><polygon points="303.67,277.8 301.07,283 306.27,283" fill="#008000"/><polygon points="319.85,276 317.25,281.2 322.45,281.2" fill="#008000"/><polygon points="336.03,274.6 333.43,279.8 338.63,279.8" fill="#008000"/><polygon points="352.22,273.9 349.62,279.1 354.82,279.1" fill="#008000"/><polygon points="368.4,270.7 365.8,275.9 371,275.9" fill="#008000"/><polygon points="384.58,270.2 381.98,275.4 387.18,275.4" fill="#008000"/><polygon points="400.77,264.2 398.17,269.4 403.37,269.4" fill="#008000"/><polygon points="416.95,256.9 414.35,262.1 419.55,262.1" fill="#008000"/><polygon points="433.13,256.9 430.53,262.1 435.73,262.1" fill="#008000"/><polygon points="449.32,256.9 446.72,262.1 451.92,262.1" fill="#008000"/></g>
<g font-family='"Liberation Serif", serif' fill="#222"><text x="266.38" y="314.6" font-size="9.6" textLength="4.32" lengthAdjust="spacingAndGlyphs">0</text><text x="262.06" y="289.47" font-size="9.6" textLength="8.64" lengthAdjust="spacingAndGlyphs">20</text><text x="262.06" y="264.34" font-size="9.6" textLength="8.64" lengthAdjust="spacingAndGlyphs">40</text><text x="262.06" y="239.21" font-size="9.6" textLength="8.64" lengthAdjust="spacingAndGlyphs">60</text><text x="262.06" y="214.08" font-size="9.6" textLength="8.64" lengthAdjust="spacingAndGlyphs">80</text><text x="257.74" y="188.95" font-size="9.6" textLength="12.96" lengthAdjust="spacingAndGlyphs">100</text><text x="287.48" y="319.1" text-anchor="middle" font-size="9.1">A2</text><text x="303.67" y="319.1" text-anchor="middle" font-size="9.1">A3</text><text x="319.85" y="319.1" text-anchor="middle" font-size="9.1">A4</text><text x="336.03" y="319.1" text-anchor="middle" font-size="9.1">A5</text><text x="352.22" y="319.1" text-anchor="middle" font-size="9.1">A6</text><text x="368.4" y="319.1" text-anchor="middle" font-size="9.1">B1</text><text x="384.58" y="319.1" text-anchor="middle" font-size="9.1">B2</text><text x="400.77" y="319.1" text-anchor="middle" font-size="9.1">B3</text><text x="416.95" y="319.1" text-anchor="middle" font-size="9.1">B4</text><text x="433.13" y="319.1" text-anchor="middle" font-size="9.1">B5</text><text x="449.32" y="319.1" text-anchor="middle" font-size="9.1">B6</text><text transform="translate(252.2,249.9) rotate(-90)" x="-29.45" y="0" font-size="9.4" textLength="58.9" lengthAdjust="spacingAndGlyphs">True percentage</text></g>
<rect x="274.8" y="189.7" width="37.8" height="33.3" rx="1.5" fill="rgba(255,255,255,0.85)" stroke="#ececec" stroke-width="0.8"/>
<line x1="278" y1="194.8" x2="293.4" y2="194.8" stroke="#ff0000" stroke-width="1.4" stroke-dasharray="none"/>
<circle cx="285.7" cy="194.8" r="2.5" fill="#ff0000"/>
<text x="298.7" y="198.4" font-family='"Liberation Serif", serif' font-size="8.4" fill="#222">X</text>
<line x1="278" y1="205.7" x2="293.4" y2="205.7" stroke="#0000ff" stroke-width="1.4" stroke-dasharray="0.95,1.05"/>
<rect x="283.2" y="203.2" width="5" height="5" fill="#0000ff"/>
<text x="298.7" y="209.3" font-family='"Liberation Serif", serif' font-size="8.4" fill="#222">XY</text>
<line x1="278" y1="216.1" x2="293.4" y2="216.1" stroke="#008000" stroke-width="1.4" stroke-dasharray="2.4,1.4"/>
<polygon points="285.7,213.6 283.2,218.6 288.2,218.6" fill="#008000"/>
<text x="298.7" y="219.7" font-family='"Liberation Serif", serif' font-size="8.4" fill="#222">RS</text>
<text x="310.4" y="350.4" font-family='"Liberation Serif", serif' font-size="14.8" fill="#111" textLength="92.7" lengthAdjust="spacingAndGlyphs">(<tspan font-weight="bold">d</tspan>) 5-city TSP</text>
<line x1="23.5" y1="481.3" x2="225.7" y2="481.3" stroke="#666" stroke-width="0.9" stroke-dasharray="3,2.2"/>
<g stroke="#5858ff" stroke-width="1.05" clip-path="url(#ce)"><line x1="40.35" y1="465.2" x2="40.35" y2="485.2"/><line x1="37.35" y1="465.2" x2="43.35" y2="465.2"/><line x1="37.35" y1="485.2" x2="43.35" y2="485.2"/><line x1="57.2" y1="470.5" x2="57.2" y2="485.8"/><line x1="54.2" y1="470.5" x2="60.2" y2="470.5"/><line x1="54.2" y1="485.8" x2="60.2" y2="485.8"/><line x1="74.05" y1="470.5" x2="74.05" y2="485.8"/><line x1="71.05" y1="470.5" x2="77.05" y2="470.5"/><line x1="71.05" y1="485.8" x2="77.05" y2="485.8"/><line x1="90.9" y1="470.5" x2="90.9" y2="485.8"/><line x1="87.9" y1="470.5" x2="93.9" y2="470.5"/><line x1="87.9" y1="485.8" x2="93.9" y2="485.8"/><line x1="107.75" y1="465.2" x2="107.75" y2="484.3"/><line x1="104.75" y1="465.2" x2="110.75" y2="465.2"/><line x1="104.75" y1="484.3" x2="110.75" y2="484.3"/><line x1="124.6" y1="460.8" x2="124.6" y2="482.2"/><line x1="121.6" y1="460.8" x2="127.6" y2="460.8"/><line x1="121.6" y1="482.2" x2="127.6" y2="482.2"/><line x1="141.45" y1="460.8" x2="141.45" y2="482"/><line x1="138.45" y1="460.8" x2="144.45" y2="460.8"/><line x1="138.45" y1="482" x2="144.45" y2="482"/><line x1="158.3" y1="464.9" x2="158.3" y2="485"/><line x1="155.3" y1="464.9" x2="161.3" y2="464.9"/><line x1="155.3" y1="485" x2="161.3" y2="485"/><line x1="208.85" y1="470.3" x2="208.85" y2="486.2"/><line x1="205.85" y1="470.3" x2="211.85" y2="470.3"/><line x1="205.85" y1="486.2" x2="211.85" y2="486.2"/></g>
<polyline points="40.35,474.5 57.2,478 74.05,478.4 90.9,478.4 107.75,474.5 124.6,471.7 141.45,470.8 158.3,475 175.15,481.4 192,481.4 208.85,477.9" fill="none" stroke="#0000ff" stroke-width="1.55" stroke-dasharray="0.95,1.05" clip-path="url(#ce)"/>
<g clip-path="url(#ce)"><rect x="37.75" y="471.9" width="5.2" height="5.2" fill="#0000ff"/><rect x="54.6" y="475.4" width="5.2" height="5.2" fill="#0000ff"/><rect x="71.45" y="475.8" width="5.2" height="5.2" fill="#0000ff"/><rect x="88.3" y="475.8" width="5.2" height="5.2" fill="#0000ff"/><rect x="105.15" y="471.9" width="5.2" height="5.2" fill="#0000ff"/><rect x="122" y="469.1" width="5.2" height="5.2" fill="#0000ff"/><rect x="138.85" y="468.2" width="5.2" height="5.2" fill="#0000ff"/><rect x="155.7" y="472.4" width="5.2" height="5.2" fill="#0000ff"/><rect x="172.55" y="478.8" width="5.2" height="5.2" fill="#0000ff"/><rect x="189.4" y="478.8" width="5.2" height="5.2" fill="#0000ff"/><rect x="206.25" y="475.3" width="5.2" height="5.2" fill="#0000ff"/></g>
<polyline points="40.35,481.4 57.2,481.4 74.05,481.4 90.9,481.4 107.75,481.4 124.6,481.4 141.45,481.4 158.3,481.4 175.15,481.4 192,481.4 208.85,481.4" fill="none" stroke="#008000" stroke-width="1.55" stroke-dasharray="2.4,1.4" clip-path="url(#ce)"/>
<g clip-path="url(#ce)"><polygon points="40.35,478.8 37.75,484 42.95,484" fill="#008000"/><polygon points="57.2,478.8 54.6,484 59.8,484" fill="#008000"/><polygon points="74.05,478.8 71.45,484 76.65,484" fill="#008000"/><polygon points="90.9,478.8 88.3,484 93.5,484" fill="#008000"/><polygon points="107.75,478.8 105.15,484 110.35,484" fill="#008000"/><polygon points="124.6,478.8 122,484 127.2,484" fill="#008000"/><polygon points="141.45,478.8 138.85,484 144.05,484" fill="#008000"/><polygon points="158.3,478.8 155.7,484 160.9,484" fill="#008000"/><polygon points="175.15,478.8 172.55,484 177.75,484" fill="#008000"/><polygon points="192,478.8 189.4,484 194.6,484" fill="#008000"/><polygon points="208.85,478.8 206.25,484 211.45,484" fill="#008000"/></g>
<g stroke="#222" stroke-width="0.9"><line x1="23.5" y1="499.06" x2="25.1" y2="499.06"/><line x1="224.1" y1="499.06" x2="225.7" y2="499.06"/><line x1="23.5" y1="494.62" x2="25.1" y2="494.62"/><line x1="224.1" y1="494.62" x2="225.7" y2="494.62"/><line x1="23.5" y1="490.18" x2="25.1" y2="490.18"/><line x1="224.1" y1="490.18" x2="225.7" y2="490.18"/><line x1="23.5" y1="485.74" x2="25.1" y2="485.74"/><line x1="224.1" y1="485.74" x2="225.7" y2="485.74"/><line x1="23.5" y1="481.3" x2="25.1" y2="481.3"/><line x1="224.1" y1="481.3" x2="225.7" y2="481.3"/><line x1="23.5" y1="476.86" x2="25.1" y2="476.86"/><line x1="224.1" y1="476.86" x2="225.7" y2="476.86"/><line x1="23.5" y1="472.42" x2="25.1" y2="472.42"/><line x1="224.1" y1="472.42" x2="225.7" y2="472.42"/><line x1="23.5" y1="467.98" x2="25.1" y2="467.98"/><line x1="224.1" y1="467.98" x2="225.7" y2="467.98"/><line x1="23.5" y1="463.54" x2="25.1" y2="463.54"/><line x1="224.1" y1="463.54" x2="225.7" y2="463.54"/><line x1="23.5" y1="459.1" x2="25.1" y2="459.1"/><line x1="224.1" y1="459.1" x2="225.7" y2="459.1"/><line x1="23.5" y1="454.66" x2="25.1" y2="454.66"/><line x1="224.1" y1="454.66" x2="225.7" y2="454.66"/><line x1="23.5" y1="450.22" x2="25.1" y2="450.22"/><line x1="224.1" y1="450.22" x2="225.7" y2="450.22"/><line x1="23.5" y1="445.78" x2="25.1" y2="445.78"/><line x1="224.1" y1="445.78" x2="225.7" y2="445.78"/><line x1="23.5" y1="441.34" x2="25.1" y2="441.34"/><line x1="224.1" y1="441.34" x2="225.7" y2="441.34"/><line x1="23.5" y1="436.9" x2="25.1" y2="436.9"/><line x1="224.1" y1="436.9" x2="225.7" y2="436.9"/><line x1="23.5" y1="432.46" x2="25.1" y2="432.46"/><line x1="224.1" y1="432.46" x2="225.7" y2="432.46"/><line x1="23.5" y1="428.02" x2="25.1" y2="428.02"/><line x1="224.1" y1="428.02" x2="225.7" y2="428.02"/><line x1="23.5" y1="423.58" x2="25.1" y2="423.58"/><line x1="224.1" y1="423.58" x2="225.7" y2="423.58"/><line x1="23.5" y1="419.14" x2="25.1" y2="419.14"/><line x1="224.1" y1="419.14" x2="225.7" y2="419.14"/><line x1="23.5" y1="414.7" x2="25.1" y2="414.7"/><line x1="224.1" y1="414.7" x2="225.7" y2="414.7"/><line x1="23.5" y1="410.26" x2="25.1" y2="410.26"/><line x1="224.1" y1="410.26" x2="225.7" y2="410.26"/><line x1="23.5" y1="405.82" x2="25.1" y2="405.82"/><line x1="224.1" y1="405.82" x2="225.7" y2="405.82"/><line x1="23.5" y1="401.38" x2="25.1" y2="401.38"/><line x1="224.1" y1="401.38" x2="225.7" y2="401.38"/><line x1="23.5" y1="396.94" x2="25.1" y2="396.94"/><line x1="224.1" y1="396.94" x2="225.7" y2="396.94"/><line x1="23.5" y1="392.5" x2="25.1" y2="392.5"/><line x1="224.1" y1="392.5" x2="225.7" y2="392.5"/><line x1="23.5" y1="388.06" x2="25.1" y2="388.06"/><line x1="224.1" y1="388.06" x2="225.7" y2="388.06"/><line x1="23.5" y1="383.62" x2="25.1" y2="383.62"/><line x1="224.1" y1="383.62" x2="225.7" y2="383.62"/><line x1="23.5" y1="379.18" x2="25.1" y2="379.18"/><line x1="224.1" y1="379.18" x2="225.7" y2="379.18"/><line x1="23.5" y1="374.74" x2="25.1" y2="374.74"/><line x1="224.1" y1="374.74" x2="225.7" y2="374.74"/><line x1="23.5" y1="370.3" x2="25.1" y2="370.3"/><line x1="224.1" y1="370.3" x2="225.7" y2="370.3"/><line x1="23.5" y1="481.3" x2="26.1" y2="481.3"/><line x1="223.1" y1="481.3" x2="225.7" y2="481.3"/><line x1="23.5" y1="459.1" x2="26.1" y2="459.1"/><line x1="223.1" y1="459.1" x2="225.7" y2="459.1"/><line x1="23.5" y1="436.9" x2="26.1" y2="436.9"/><line x1="223.1" y1="436.9" x2="225.7" y2="436.9"/><line x1="23.5" y1="414.7" x2="26.1" y2="414.7"/><line x1="223.1" y1="414.7" x2="225.7" y2="414.7"/><line x1="23.5" y1="392.5" x2="26.1" y2="392.5"/><line x1="223.1" y1="392.5" x2="225.7" y2="392.5"/><line x1="23.5" y1="370.3" x2="26.1" y2="370.3"/><line x1="223.1" y1="370.3" x2="225.7" y2="370.3"/><line x1="40.35" y1="370.3" x2="40.35" y2="372.5"/><line x1="40.35" y1="499" x2="40.35" y2="501.2"/><line x1="57.2" y1="370.3" x2="57.2" y2="372.5"/><line x1="57.2" y1="499" x2="57.2" y2="501.2"/><line x1="74.05" y1="370.3" x2="74.05" y2="372.5"/><line x1="74.05" y1="499" x2="74.05" y2="501.2"/><line x1="90.9" y1="370.3" x2="90.9" y2="372.5"/><line x1="90.9" y1="499" x2="90.9" y2="501.2"/><line x1="107.75" y1="370.3" x2="107.75" y2="372.5"/><line x1="107.75" y1="499" x2="107.75" y2="501.2"/><line x1="124.6" y1="370.3" x2="124.6" y2="372.5"/><line x1="124.6" y1="499" x2="124.6" y2="501.2"/><line x1="141.45" y1="370.3" x2="141.45" y2="372.5"/><line x1="141.45" y1="499" x2="141.45" y2="501.2"/><line x1="158.3" y1="370.3" x2="158.3" y2="372.5"/><line x1="158.3" y1="499" x2="158.3" y2="501.2"/><line x1="175.15" y1="370.3" x2="175.15" y2="372.5"/><line x1="175.15" y1="499" x2="175.15" y2="501.2"/><line x1="192" y1="370.3" x2="192" y2="372.5"/><line x1="192" y1="499" x2="192" y2="501.2"/><line x1="208.85" y1="370.3" x2="208.85" y2="372.5"/><line x1="208.85" y1="499" x2="208.85" y2="501.2"/></g>
<rect x="23.5" y="370.3" width="202.2" height="130.9" fill="none" stroke="#333" stroke-width="1"/>
<g font-family='"Liberation Serif", serif' fill="#222"><text x="18.58" y="484.7" font-size="9.6" textLength="4.32" lengthAdjust="spacingAndGlyphs">1</text><text x="18.58" y="462.5" font-size="9.6" textLength="4.32" lengthAdjust="spacingAndGlyphs">2</text><text x="18.58" y="440.3" font-size="9.6" textLength="4.32" lengthAdjust="spacingAndGlyphs">3</text><text x="18.58" y="418.1" font-size="9.6" textLength="4.32" lengthAdjust="spacingAndGlyphs">4</text><text x="18.58" y="395.9" font-size="9.6" textLength="4.32" lengthAdjust="spacingAndGlyphs">5</text><text x="18.58" y="373.7" font-size="9.6" textLength="4.32" lengthAdjust="spacingAndGlyphs">6</text><text x="40.35" y="509.4" text-anchor="middle" font-size="9.1">A2</text><text x="57.2" y="509.4" text-anchor="middle" font-size="9.1">A3</text><text x="74.05" y="509.4" text-anchor="middle" font-size="9.1">A4</text><text x="90.9" y="509.4" text-anchor="middle" font-size="9.1">A5</text><text x="107.75" y="509.4" text-anchor="middle" font-size="9.1">A6</text><text x="124.6" y="509.4" text-anchor="middle" font-size="9.1">B1</text><text x="141.45" y="509.4" text-anchor="middle" font-size="9.1">B2</text><text x="158.3" y="509.4" text-anchor="middle" font-size="9.1">B3</text><text x="175.15" y="509.4" text-anchor="middle" font-size="9.1">B4</text><text x="192" y="509.4" text-anchor="middle" font-size="9.1">B5</text><text x="208.85" y="509.4" text-anchor="middle" font-size="9.1">B6</text><text transform="translate(15.8,436) rotate(-90)" x="-9.95" y="0" font-size="9.4" textLength="19.9" lengthAdjust="spacingAndGlyphs">Rank</text></g>
<rect x="182.2" y="373.9" width="40.2" height="24.2" rx="1.5" fill="rgba(255,255,255,0.85)" stroke="#ececec" stroke-width="0.8"/>
<line x1="185.5" y1="380.4" x2="201.6" y2="380.4" stroke="#0000ff" stroke-width="1.4" stroke-dasharray="0.95,1.05"/>
<rect x="191.05" y="377.9" width="5" height="5" fill="#0000ff"/>
<text x="207.7" y="384" font-family='"Liberation Serif", serif' font-size="8.4" fill="#222">XY</text>
<line x1="185.5" y1="391.2" x2="201.6" y2="391.2" stroke="#008000" stroke-width="1.4" stroke-dasharray="2.4,1.4"/>
<polygon points="193.55,388.7 191.05,393.7 196.05,393.7" fill="#008000"/>
<text x="207.7" y="394.8" font-family='"Liberation Serif", serif' font-size="8.4" fill="#222">RS</text>
<text x="71.3" y="540.6" font-family='"Liberation Serif", serif' font-size="14.8" fill="#111" textLength="90.9" lengthAdjust="spacingAndGlyphs">(<tspan font-weight="bold">e</tspan>) 4-city TSP</text>
<line x1="263.3" y1="481.3" x2="465.5" y2="481.3" stroke="#666" stroke-width="0.9" stroke-dasharray="3,2.2"/>
<g stroke="#5858ff" stroke-width="1.05" clip-path="url(#cf)"><line x1="277.15" y1="460.9" x2="283.15" y2="460.9"/><line x1="277.15" y1="483.1" x2="283.15" y2="483.1"/><line x1="294" y1="465.2" x2="300" y2="465.2"/><line x1="294" y1="485.2" x2="300" y2="485.2"/><line x1="310.85" y1="442.3" x2="316.85" y2="442.3"/><line x1="310.85" y1="488.4" x2="316.85" y2="488.4"/><line x1="330.7" y1="377.8" x2="330.7" y2="389.3"/><line x1="327.7" y1="377.8" x2="333.7" y2="377.8"/><line x1="327.7" y1="483.6" x2="333.7" y2="483.6"/><line x1="347.55" y1="364.7" x2="347.55" y2="381.5"/><line x1="344.55" y1="364.7" x2="350.55" y2="364.7"/><line x1="344.55" y1="483.9" x2="350.55" y2="483.9"/><line x1="364.4" y1="491.4" x2="364.4" y2="494.1"/><line x1="361.4" y1="392" x2="367.4" y2="392"/><line x1="361.4" y1="494.1" x2="367.4" y2="494.1"/><line x1="378.25" y1="435.3" x2="384.25" y2="435.3"/><line x1="378.25" y1="483.2" x2="384.25" y2="483.2"/><line x1="395.1" y1="435.3" x2="401.1" y2="435.3"/><line x1="395.1" y1="483.2" x2="401.1" y2="483.2"/><line x1="411.95" y1="435.3" x2="417.95" y2="435.3"/><line x1="411.95" y1="483.2" x2="417.95" y2="483.2"/><line x1="428.8" y1="437.6" x2="434.8" y2="437.6"/><line x1="428.8" y1="487.3" x2="434.8" y2="487.3"/><line x1="445.65" y1="437.6" x2="451.65" y2="437.6"/><line x1="445.65" y1="487.3" x2="451.65" y2="487.3"/></g>
<g stroke="#52a452" stroke-width="1.05" clip-path="url(#cf)"><line x1="280.15" y1="337" x2="280.15" y2="487.2"/><line x1="277.15" y1="337" x2="283.15" y2="337"/><line x1="277.15" y1="487.2" x2="283.15" y2="487.2"/><line x1="297" y1="380.2" x2="297" y2="494.2"/><line x1="294" y1="380.2" x2="300" y2="380.2"/><line x1="294" y1="494.2" x2="300" y2="494.2"/><line x1="313.85" y1="382.6" x2="313.85" y2="491.4"/><line x1="310.85" y1="382.6" x2="316.85" y2="382.6"/><line x1="310.85" y1="491.4" x2="316.85" y2="491.4"/><line x1="330.7" y1="389.3" x2="330.7" y2="484.3"/><line x1="327.7" y1="389.3" x2="333.7" y2="389.3"/><line x1="327.7" y1="484.3" x2="333.7" y2="484.3"/><line x1="347.55" y1="381.5" x2="347.55" y2="486.2"/><line x1="344.55" y1="381.5" x2="350.55" y2="381.5"/><line x1="344.55" y1="486.2" x2="350.55" y2="486.2"/><line x1="364.4" y1="382.7" x2="364.4" y2="491.4"/><line x1="361.4" y1="382.7" x2="367.4" y2="382.7"/><line x1="361.4" y1="491.4" x2="367.4" y2="491.4"/><line x1="381.25" y1="394.6" x2="381.25" y2="492.2"/><line x1="378.25" y1="394.6" x2="384.25" y2="394.6"/><line x1="378.25" y1="492.2" x2="384.25" y2="492.2"/><line x1="398.1" y1="404.4" x2="398.1" y2="502.6"/><line x1="395.1" y1="404.4" x2="401.1" y2="404.4"/><line x1="395.1" y1="502.6" x2="401.1" y2="502.6"/><line x1="414.95" y1="404.4" x2="414.95" y2="502.6"/><line x1="411.95" y1="404.4" x2="417.95" y2="404.4"/><line x1="411.95" y1="502.6" x2="417.95" y2="502.6"/><line x1="431.8" y1="404.4" x2="431.8" y2="502.6"/><line x1="428.8" y1="404.4" x2="434.8" y2="404.4"/><line x1="428.8" y1="502.6" x2="434.8" y2="502.6"/><line x1="448.65" y1="404.4" x2="448.65" y2="502.6"/><line x1="445.65" y1="404.4" x2="451.65" y2="404.4"/><line x1="445.65" y1="502.6" x2="451.65" y2="502.6"/></g>
<polyline points="280.15,472 297,475.4 313.85,465.6 330.7,430.9 347.55,424.3 364.4,443.2 381.25,459.3 398.1,459.3 414.95,459.3 431.8,462.3 448.65,462.3" fill="none" stroke="#0000ff" stroke-width="1.55" stroke-dasharray="0.95,1.05" clip-path="url(#cf)"/>
<g clip-path="url(#cf)"><rect x="277.55" y="469.4" width="5.2" height="5.2" fill="#0000ff"/><rect x="294.4" y="472.8" width="5.2" height="5.2" fill="#0000ff"/><rect x="311.25" y="463" width="5.2" height="5.2" fill="#0000ff"/><rect x="328.1" y="428.3" width="5.2" height="5.2" fill="#0000ff"/><rect x="344.95" y="421.7" width="5.2" height="5.2" fill="#0000ff"/><rect x="361.8" y="440.6" width="5.2" height="5.2" fill="#0000ff"/><rect x="378.65" y="456.7" width="5.2" height="5.2" fill="#0000ff"/><rect x="395.5" y="456.7" width="5.2" height="5.2" fill="#0000ff"/><rect x="412.35" y="456.7" width="5.2" height="5.2" fill="#0000ff"/><rect x="429.2" y="459.7" width="5.2" height="5.2" fill="#0000ff"/><rect x="446.05" y="459.7" width="5.2" height="5.2" fill="#0000ff"/></g>
<polyline points="280.15,412.2 297,437.5 313.85,437.5 330.7,437.2 347.55,434.3 364.4,437.2 381.25,443.6 398.1,453.2 414.95,453.2 431.8,453.2 448.65,453.2" fill="none" stroke="#008000" stroke-width="1.55" stroke-dasharray="2.4,1.4" clip-path="url(#cf)"/>
<g clip-path="url(#cf)"><polygon points="280.15,409.6 277.55,414.8 282.75,414.8" fill="#008000"/><polygon points="297,434.9 294.4,440.1 299.6,440.1" fill="#008000"/><polygon points="313.85,434.9 311.25,440.1 316.45,440.1" fill="#008000"/><polygon points="330.7,434.6 328.1,439.8 333.3,439.8" fill="#008000"/><polygon points="347.55,431.7 344.95,436.9 350.15,436.9" fill="#008000"/><polygon points="364.4,434.6 361.8,439.8 367,439.8" fill="#008000"/><polygon points="381.25,441 378.65,446.2 383.85,446.2" fill="#008000"/><polygon points="398.1,450.6 395.5,455.8 400.7,455.8" fill="#008000"/><polygon points="414.95,450.6 412.35,455.8 417.55,455.8" fill="#008000"/><polygon points="431.8,450.6 429.2,455.8 434.4,455.8" fill="#008000"/><polygon points="448.65,450.6 446.05,455.8 451.25,455.8" fill="#008000"/></g>
<g stroke="#222" stroke-width="0.9"><line x1="263.3" y1="499.06" x2="264.9" y2="499.06"/><line x1="463.9" y1="499.06" x2="465.5" y2="499.06"/><line x1="263.3" y1="494.62" x2="264.9" y2="494.62"/><line x1="463.9" y1="494.62" x2="465.5" y2="494.62"/><line x1="263.3" y1="490.18" x2="264.9" y2="490.18"/><line x1="463.9" y1="490.18" x2="465.5" y2="490.18"/><line x1="263.3" y1="485.74" x2="264.9" y2="485.74"/><line x1="463.9" y1="485.74" x2="465.5" y2="485.74"/><line x1="263.3" y1="481.3" x2="264.9" y2="481.3"/><line x1="463.9" y1="481.3" x2="465.5" y2="481.3"/><line x1="263.3" y1="476.86" x2="264.9" y2="476.86"/><line x1="463.9" y1="476.86" x2="465.5" y2="476.86"/><line x1="263.3" y1="472.42" x2="264.9" y2="472.42"/><line x1="463.9" y1="472.42" x2="465.5" y2="472.42"/><line x1="263.3" y1="467.98" x2="264.9" y2="467.98"/><line x1="463.9" y1="467.98" x2="465.5" y2="467.98"/><line x1="263.3" y1="463.54" x2="264.9" y2="463.54"/><line x1="463.9" y1="463.54" x2="465.5" y2="463.54"/><line x1="263.3" y1="459.1" x2="264.9" y2="459.1"/><line x1="463.9" y1="459.1" x2="465.5" y2="459.1"/><line x1="263.3" y1="454.66" x2="264.9" y2="454.66"/><line x1="463.9" y1="454.66" x2="465.5" y2="454.66"/><line x1="263.3" y1="450.22" x2="264.9" y2="450.22"/><line x1="463.9" y1="450.22" x2="465.5" y2="450.22"/><line x1="263.3" y1="445.78" x2="264.9" y2="445.78"/><line x1="463.9" y1="445.78" x2="465.5" y2="445.78"/><line x1="263.3" y1="441.34" x2="264.9" y2="441.34"/><line x1="463.9" y1="441.34" x2="465.5" y2="441.34"/><line x1="263.3" y1="436.9" x2="264.9" y2="436.9"/><line x1="463.9" y1="436.9" x2="465.5" y2="436.9"/><line x1="263.3" y1="432.46" x2="264.9" y2="432.46"/><line x1="463.9" y1="432.46" x2="465.5" y2="432.46"/><line x1="263.3" y1="428.02" x2="264.9" y2="428.02"/><line x1="463.9" y1="428.02" x2="465.5" y2="428.02"/><line x1="263.3" y1="423.58" x2="264.9" y2="423.58"/><line x1="463.9" y1="423.58" x2="465.5" y2="423.58"/><line x1="263.3" y1="419.14" x2="264.9" y2="419.14"/><line x1="463.9" y1="419.14" x2="465.5" y2="419.14"/><line x1="263.3" y1="414.7" x2="264.9" y2="414.7"/><line x1="463.9" y1="414.7" x2="465.5" y2="414.7"/><line x1="263.3" y1="410.26" x2="264.9" y2="410.26"/><line x1="463.9" y1="410.26" x2="465.5" y2="410.26"/><line x1="263.3" y1="405.82" x2="264.9" y2="405.82"/><line x1="463.9" y1="405.82" x2="465.5" y2="405.82"/><line x1="263.3" y1="401.38" x2="264.9" y2="401.38"/><line x1="463.9" y1="401.38" x2="465.5" y2="401.38"/><line x1="263.3" y1="396.94" x2="264.9" y2="396.94"/><line x1="463.9" y1="396.94" x2="465.5" y2="396.94"/><line x1="263.3" y1="392.5" x2="264.9" y2="392.5"/><line x1="463.9" y1="392.5" x2="465.5" y2="392.5"/><line x1="263.3" y1="388.06" x2="264.9" y2="388.06"/><line x1="463.9" y1="388.06" x2="465.5" y2="388.06"/><line x1="263.3" y1="383.62" x2="264.9" y2="383.62"/><line x1="463.9" y1="383.62" x2="465.5" y2="383.62"/><line x1="263.3" y1="379.18" x2="264.9" y2="379.18"/><line x1="463.9" y1="379.18" x2="465.5" y2="379.18"/><line x1="263.3" y1="374.74" x2="264.9" y2="374.74"/><line x1="463.9" y1="374.74" x2="465.5" y2="374.74"/><line x1="263.3" y1="370.3" x2="264.9" y2="370.3"/><line x1="463.9" y1="370.3" x2="465.5" y2="370.3"/><line x1="263.3" y1="481.3" x2="265.9" y2="481.3"/><line x1="462.9" y1="481.3" x2="465.5" y2="481.3"/><line x1="263.3" y1="459.1" x2="265.9" y2="459.1"/><line x1="462.9" y1="459.1" x2="465.5" y2="459.1"/><line x1="263.3" y1="436.9" x2="265.9" y2="436.9"/><line x1="462.9" y1="436.9" x2="465.5" y2="436.9"/><line x1="263.3" y1="414.7" x2="265.9" y2="414.7"/><line x1="462.9" y1="414.7" x2="465.5" y2="414.7"/><line x1="263.3" y1="392.5" x2="265.9" y2="392.5"/><line x1="462.9" y1="392.5" x2="465.5" y2="392.5"/><line x1="263.3" y1="370.3" x2="265.9" y2="370.3"/><line x1="462.9" y1="370.3" x2="465.5" y2="370.3"/><line x1="280.15" y1="370.3" x2="280.15" y2="372.5"/><line x1="280.15" y1="498.8" x2="280.15" y2="501"/><line x1="297" y1="370.3" x2="297" y2="372.5"/><line x1="297" y1="498.8" x2="297" y2="501"/><line x1="313.85" y1="370.3" x2="313.85" y2="372.5"/><line x1="313.85" y1="498.8" x2="313.85" y2="501"/><line x1="330.7" y1="370.3" x2="330.7" y2="372.5"/><line x1="330.7" y1="498.8" x2="330.7" y2="501"/><line x1="347.55" y1="370.3" x2="347.55" y2="372.5"/><line x1="347.55" y1="498.8" x2="347.55" y2="501"/><line x1="364.4" y1="370.3" x2="364.4" y2="372.5"/><line x1="364.4" y1="498.8" x2="364.4" y2="501"/><line x1="381.25" y1="370.3" x2="381.25" y2="372.5"/><line x1="381.25" y1="498.8" x2="381.25" y2="501"/><line x1="398.1" y1="370.3" x2="398.1" y2="372.5"/><line x1="398.1" y1="498.8" x2="398.1" y2="501"/><line x1="414.95" y1="370.3" x2="414.95" y2="372.5"/><line x1="414.95" y1="498.8" x2="414.95" y2="501"/><line x1="431.8" y1="370.3" x2="431.8" y2="372.5"/><line x1="431.8" y1="498.8" x2="431.8" y2="501"/><line x1="448.65" y1="370.3" x2="448.65" y2="372.5"/><line x1="448.65" y1="498.8" x2="448.65" y2="501"/></g>
<rect x="263.3" y="370.3" width="202.2" height="130.7" fill="none" stroke="#333" stroke-width="1"/>
<g font-family='"Liberation Serif", serif' fill="#222"><text x="258.38" y="484.7" font-size="9.6" textLength="4.32" lengthAdjust="spacingAndGlyphs">1</text><text x="258.38" y="462.5" font-size="9.6" textLength="4.32" lengthAdjust="spacingAndGlyphs">2</text><text x="258.38" y="440.3" font-size="9.6" textLength="4.32" lengthAdjust="spacingAndGlyphs">3</text><text x="258.38" y="418.1" font-size="9.6" textLength="4.32" lengthAdjust="spacingAndGlyphs">4</text><text x="258.38" y="395.9" font-size="9.6" textLength="4.32" lengthAdjust="spacingAndGlyphs">5</text><text x="258.38" y="373.7" font-size="9.6" textLength="4.32" lengthAdjust="spacingAndGlyphs">6</text><text x="280.15" y="509.4" text-anchor="middle" font-size="9.1">A2</text><text x="297" y="509.4" text-anchor="middle" font-size="9.1">A3</text><text x="313.85" y="509.4" text-anchor="middle" font-size="9.1">A4</text><text x="330.7" y="509.4" text-anchor="middle" font-size="9.1">A5</text><text x="347.55" y="509.4" text-anchor="middle" font-size="9.1">A6</text><text x="364.4" y="509.4" text-anchor="middle" font-size="9.1">B1</text><text x="381.25" y="509.4" text-anchor="middle" font-size="9.1">B2</text><text x="398.1" y="509.4" text-anchor="middle" font-size="9.1">B3</text><text x="414.95" y="509.4" text-anchor="middle" font-size="9.1">B4</text><text x="431.8" y="509.4" text-anchor="middle" font-size="9.1">B5</text><text x="448.65" y="509.4" text-anchor="middle" font-size="9.1">B6</text><text transform="translate(255.9,436) rotate(-90)" x="-9.85" y="0" font-size="9.4" textLength="19.7" lengthAdjust="spacingAndGlyphs">Rank</text></g>
<rect x="422.2" y="374.1" width="38.8" height="24.2" rx="1.5" fill="rgba(255,255,255,0.85)" stroke="#ececec" stroke-width="0.8"/>
<line x1="425.5" y1="380.2" x2="440.2" y2="380.2" stroke="#0000ff" stroke-width="1.4" stroke-dasharray="0.95,1.05"/>
<rect x="430.35" y="377.7" width="5" height="5" fill="#0000ff"/>
<text x="447.6" y="383.8" font-family='"Liberation Serif", serif' font-size="8.4" fill="#222">XY</text>
<line x1="425.5" y1="391" x2="440.2" y2="391" stroke="#008000" stroke-width="1.4" stroke-dasharray="2.4,1.4"/>
<polygon points="432.85,388.5 430.35,393.5 435.35,393.5" fill="#008000"/>
<text x="447.6" y="394.6" font-family='"Liberation Serif", serif' font-size="8.4" fill="#222">RS</text>
<text x="312.2" y="540.6" font-family='"Liberation Serif", serif' font-size="14.8" fill="#111" textLength="89.3" lengthAdjust="spacingAndGlyphs">(<tspan font-weight="bold">f</tspan>) 5-city TSP</text>
</svg>
</body></html>
